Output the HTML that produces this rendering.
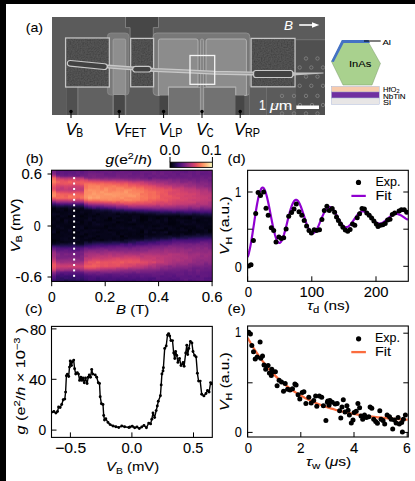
<!DOCTYPE html><html><head><meta charset="utf-8"><style>html,body{margin:0;padding:0;background:#fff;width:415px;height:481px;overflow:hidden}svg{display:block;position:absolute;left:0;top:0}text{font-family:"Liberation Sans",sans-serif}</style></head><body><svg width="415" height="481" viewBox="0 0 415 481"><rect x="0" y="0" width="6" height="481" fill="#000"/>
<rect x="0" y="0" width="415" height="4" fill="#000"/>
<defs><filter id="nz" x="0" y="0" width="1" height="1"><feTurbulence type="fractalNoise" baseFrequency="0.7" numOctaves="1" seed="4"/><feColorMatrix type="matrix" values="1 0 0 0 0  1 0 0 0 0  1 0 0 0 0  0 0 0 0 0.22"/></filter><clipPath id="padclip"><rect x="66.2" y="38.6" width="42.5" height="47.8"/><rect x="131.3" y="39" width="21.7" height="47.2"/><rect x="251.7" y="39" width="42.7" height="47.2"/></clipPath><clipPath id="semclip"><rect x="52" y="17" width="273" height="98"/></clipPath></defs>
<g clip-path="url(#semclip)">
<rect x="52" y="17" width="273" height="98" fill="#5b5b5b"/>
<rect x="296" y="40" width="29" height="75" fill="#505050"/>
<path d="M125.5 17 V27.6 H130.1 V38.5 H153.3 V27.6 H158.5 V17" fill="#474747" stroke="#8a8a8a" stroke-width="0.8"/>
<line x1="296" y1="39.7" x2="325" y2="39.7" stroke="#7a7a7a" stroke-width="0.8"/>
<rect x="77.7" y="87" width="36" height="28" fill="#616161"/>
<rect x="66.6" y="86" width="11.1" height="29" fill="#505050"/>
<line x1="77.9" y1="86" x2="77.9" y2="115" stroke="#8a8a8a" stroke-width="0.8"/>
<line x1="66.4" y1="86" x2="66.4" y2="115" stroke="#6a6a6a" stroke-width="0.6"/>
<rect x="107.4" y="33" width="21.6" height="62" rx="3.5" fill="#7a7a7a" stroke="#8e8e8e" stroke-width="0.7"/>
<rect x="113.1" y="39" width="12.6" height="56" rx="1.5" fill="#8e8e8e" stroke="#a8a8a8" stroke-width="0.7"/>
<rect x="113.8" y="95" width="10.6" height="20" fill="#484848"/>
<line x1="113.1" y1="95" x2="113.1" y2="115" stroke="#959595" stroke-width="0.8"/>
<line x1="125.7" y1="95" x2="125.7" y2="115" stroke="#959595" stroke-width="0.8"/>
<rect x="153.2" y="33" width="96.6" height="62.4" rx="3.5" fill="#787878" stroke="#969696" stroke-width="0.8"/>
<rect x="168.4" y="87.5" width="67.4" height="30" fill="#727272" stroke="#a4a4a4" stroke-width="0.8"/>
<path d="M160.4 39 H196 Q198 39 198 41 V86.8 H168.4 V95.4 H158.4 V41 Q158.4 39 160.4 39 Z" fill="#8c8c8c" stroke="#b4b4b4" stroke-width="0.9"/>
<path d="M208 39 H244.4 Q246.4 39 246.4 41 V95.4 H235.8 V86.8 H206 V41 Q206 39 208 39 Z" fill="#8c8c8c" stroke="#b4b4b4" stroke-width="0.9"/>
<rect x="200.4" y="39" width="3.2" height="77" rx="1.5" fill="#868686" stroke="#ababab" stroke-width="0.8"/>
<rect x="159.5" y="95.4" width="8.7" height="20" fill="#464646"/>
<rect x="235.3" y="95.4" width="9" height="20" fill="#464646"/>
<rect x="249.5" y="86" width="17" height="30" fill="#5e5e5e" stroke="#7a7a7a" stroke-width="0.6"/>
<rect x="65.6" y="38" width="43.7" height="49.0" fill="#303030" stroke="#c6c6c6" stroke-width="1.3"/>
<rect x="130.7" y="38.4" width="22.9" height="48.4" fill="#303030" stroke="#c6c6c6" stroke-width="1.3"/>
<rect x="251.1" y="38.4" width="43.9" height="48.4" fill="#303030" stroke="#c6c6c6" stroke-width="1.3"/>
<rect x="52" y="17" width="273" height="98" fill="#fff" filter="url(#nz)" clip-path="url(#padclip)"/>
<circle cx="306" cy="58.5" r="1.7" fill="none" stroke="#858585" stroke-width="0.8"/>
<circle cx="317.5" cy="58.5" r="1.7" fill="none" stroke="#858585" stroke-width="0.8"/>
<circle cx="299.7" cy="67.5" r="1.7" fill="none" stroke="#858585" stroke-width="0.8"/>
<circle cx="311.3" cy="67.5" r="1.7" fill="none" stroke="#858585" stroke-width="0.8"/>
<circle cx="323" cy="67.5" r="1.7" fill="none" stroke="#858585" stroke-width="0.8"/>
<circle cx="306" cy="76.6" r="1.7" fill="none" stroke="#858585" stroke-width="0.8"/>
<circle cx="317.5" cy="76.6" r="1.7" fill="none" stroke="#858585" stroke-width="0.8"/>
<circle cx="299.7" cy="85.8" r="1.7" fill="none" stroke="#858585" stroke-width="0.8"/>
<circle cx="311.3" cy="85.8" r="1.7" fill="none" stroke="#858585" stroke-width="0.8"/>
<circle cx="323" cy="85.8" r="1.7" fill="none" stroke="#858585" stroke-width="0.8"/>
<circle cx="282" cy="95.9" r="1.7" fill="none" stroke="#858585" stroke-width="0.8"/>
<circle cx="294" cy="95.9" r="1.7" fill="none" stroke="#858585" stroke-width="0.8"/>
<circle cx="306" cy="95.9" r="1.7" fill="none" stroke="#858585" stroke-width="0.8"/>
<circle cx="317.5" cy="95.9" r="1.7" fill="none" stroke="#858585" stroke-width="0.8"/>
<circle cx="276" cy="105" r="1.7" fill="none" stroke="#858585" stroke-width="0.8"/>
<circle cx="288" cy="105" r="1.7" fill="none" stroke="#858585" stroke-width="0.8"/>
<circle cx="300" cy="105" r="1.7" fill="none" stroke="#858585" stroke-width="0.8"/>
<circle cx="312" cy="105" r="1.7" fill="none" stroke="#858585" stroke-width="0.8"/>
<circle cx="323" cy="105" r="1.7" fill="none" stroke="#858585" stroke-width="0.8"/>
<circle cx="282" cy="113.5" r="1.7" fill="none" stroke="#858585" stroke-width="0.8"/>
<circle cx="294" cy="113.5" r="1.7" fill="none" stroke="#858585" stroke-width="0.8"/>
<circle cx="306" cy="113.5" r="1.7" fill="none" stroke="#858585" stroke-width="0.8"/>
<circle cx="317.5" cy="113.5" r="1.7" fill="none" stroke="#858585" stroke-width="0.8"/>
<polyline points="108,66.6 131,68.3 155,70 190,71.5 215,72.8 250,73.4 293,74.0" fill="none" stroke="#c8c8c8" stroke-width="4.0" stroke-linecap="round" stroke-linejoin="round"/>
<polyline points="108,66.6 131,68.3 155,70 190,71.5 215,72.8 250,73.4 293,74.0" fill="none" stroke="#a0a0a0" stroke-width="1.4" stroke-linejoin="round"/>
<path d="M293 72.6 L323.5 72.4 L323.5 73.6 L293 75.4 Z" fill="#c0c0c0"/>
<line x1="70.2" y1="63.3" x2="104.4" y2="66.6" stroke="#c8c8c8" stroke-width="6.8" stroke-linecap="round"/>
<line x1="70.2" y1="63.3" x2="104.4" y2="66.6" stroke="#424242" stroke-width="4.6" stroke-linecap="round"/>
<line x1="135.6" y1="69.2" x2="148.2" y2="69.2" stroke="#c8c8c8" stroke-width="6.8" stroke-linecap="round"/>
<line x1="135.6" y1="69.2" x2="148.2" y2="69.2" stroke="#424242" stroke-width="4.6" stroke-linecap="round"/>
<rect x="253.6" y="70.5" width="39.2" height="7" rx="2.2" fill="#424242" stroke="#c8c8c8" stroke-width="1.2"/>
<rect x="190" y="55.5" width="24.7" height="28.8" fill="none" stroke="#f4f4f4" stroke-width="1.3"/>
<text x="284.00" y="30.00" font-size="12.6" text-anchor="start" font-style="italic" textLength="9.00" lengthAdjust="spacingAndGlyphs" fill="#fff" stroke="#fff" stroke-width="0.08" >B</text>
<line x1="299.2" y1="25" x2="314" y2="25" stroke="#fff" stroke-width="1.6"/>
<path d="M312 22.2 L319.3 25 L312 27.8 Z" fill="#fff"/>
<text x="259.00" y="110.00" font-size="14.6" text-anchor="start" textLength="6.80" lengthAdjust="spacingAndGlyphs" fill="#fff" stroke="#fff" stroke-width="0.08" >1</text>
<text x="270.00" y="110.00" font-size="13" text-anchor="start" textLength="22.40" lengthAdjust="spacingAndGlyphs" fill="#fff" stroke="#fff" stroke-width="0.08" ><tspan font-style="italic">&#956;</tspan>m</text>
<rect x="296.3" y="105.5" width="22.7" height="3.5" fill="#fff"/>
</g>
<circle cx="71" cy="111.5" r="1.7" fill="#000"/>
<line x1="71" y1="111.5" x2="71" y2="118" stroke="#000" stroke-width="1"/>
<circle cx="119.2" cy="111.5" r="1.7" fill="#000"/>
<line x1="119.2" y1="111.5" x2="119.2" y2="118" stroke="#000" stroke-width="1"/>
<circle cx="163.6" cy="111.5" r="1.7" fill="#000"/>
<line x1="163.6" y1="111.5" x2="163.6" y2="118" stroke="#000" stroke-width="1"/>
<circle cx="202" cy="111.5" r="1.7" fill="#000"/>
<line x1="202" y1="111.5" x2="202" y2="118" stroke="#000" stroke-width="1"/>
<circle cx="240.2" cy="111.5" r="1.7" fill="#000"/>
<line x1="240.2" y1="111.5" x2="240.2" y2="118" stroke="#000" stroke-width="1"/>
<text x="65.50" y="134.80" font-size="17.3" text-anchor="start" font-style="italic" textLength="11.40" lengthAdjust="spacingAndGlyphs" fill="#000" stroke="#000" stroke-width="0.08" >V</text>
<text x="76.30" y="137.20" font-size="12" text-anchor="start" textLength="6.90" lengthAdjust="spacingAndGlyphs" fill="#000" stroke="#000" stroke-width="0.08" >B</text>
<text x="114.00" y="134.80" font-size="17.3" text-anchor="start" font-style="italic" textLength="11.40" lengthAdjust="spacingAndGlyphs" fill="#000" stroke="#000" stroke-width="0.08" >V</text>
<text x="124.80" y="137.20" font-size="12" text-anchor="start" textLength="21.30" lengthAdjust="spacingAndGlyphs" fill="#000" stroke="#000" stroke-width="0.08" >FET</text>
<text x="158.40" y="134.80" font-size="17.3" text-anchor="start" font-style="italic" textLength="11.40" lengthAdjust="spacingAndGlyphs" fill="#000" stroke="#000" stroke-width="0.08" >V</text>
<text x="169.20" y="137.20" font-size="12" text-anchor="start" textLength="13.20" lengthAdjust="spacingAndGlyphs" fill="#000" stroke="#000" stroke-width="0.08" >LP</text>
<text x="196.00" y="134.80" font-size="17.3" text-anchor="start" font-style="italic" textLength="11.40" lengthAdjust="spacingAndGlyphs" fill="#000" stroke="#000" stroke-width="0.08" >V</text>
<text x="206.80" y="137.20" font-size="12" text-anchor="start" textLength="6.80" lengthAdjust="spacingAndGlyphs" fill="#000" stroke="#000" stroke-width="0.08" >C</text>
<text x="234.10" y="134.80" font-size="17.3" text-anchor="start" font-style="italic" textLength="11.40" lengthAdjust="spacingAndGlyphs" fill="#000" stroke="#000" stroke-width="0.08" >V</text>
<text x="244.90" y="137.20" font-size="12" text-anchor="start" textLength="15.00" lengthAdjust="spacingAndGlyphs" fill="#000" stroke="#000" stroke-width="0.08" >RP</text>
<text x="25.70" y="32.00" font-size="13.6" text-anchor="start" textLength="17.40" lengthAdjust="spacingAndGlyphs" fill="#000" stroke="#000" stroke-width="0.08" >(a)</text>
<polygon points="342,42.2 368.4,42.2 380.4,63.5 372,85 343,85 331.5,61.5" fill="#a9d18e" stroke="#7a9a6a" stroke-width="0.5"/>
<polygon points="341.8,40.0 368.6,40.0 369.9,42.9 343.6,42.9 333.8,61.9 331.2,61.5" fill="#4472c4"/>
<line x1="364" y1="41" x2="380.7" y2="41" stroke="#000" stroke-width="1"/>
<text x="382.50" y="45.00" font-size="8" text-anchor="start" textLength="8.50" lengthAdjust="spacingAndGlyphs" fill="#000" stroke="#000" stroke-width="0.08" >Al</text>
<text x="349.00" y="66.60" font-size="8.2" text-anchor="start" textLength="22.30" lengthAdjust="spacingAndGlyphs" fill="#000" stroke="#000" stroke-width="0.08" >InAs</text>
<rect x="331.5" y="86.5" width="47.7" height="5.5" fill="#f8cbad" stroke="#9aa9cf" stroke-width="0.4"/>
<rect x="331.5" y="92" width="47.7" height="6" fill="#7030a0" stroke="#9aa9cf" stroke-width="0.4"/>
<rect x="331.5" y="98" width="47.7" height="6.3" fill="#e8e6e6" stroke="#9aa9cf" stroke-width="0.4"/>
<text x="383.00" y="91.50" font-size="7.6" text-anchor="start" fill="#000" stroke="#000" stroke-width="0.08" >HfO<tspan font-size="5.5" dy="1.5">2</tspan></text>
<text x="383.00" y="98.60" font-size="7.6" text-anchor="start" textLength="22.50" lengthAdjust="spacingAndGlyphs" fill="#000" stroke="#000" stroke-width="0.08" >NbTiN</text>
<text x="383.00" y="104.50" font-size="7.6" text-anchor="start" textLength="8.00" lengthAdjust="spacingAndGlyphs" fill="#000" stroke="#000" stroke-width="0.08" >Si</text>
<defs><linearGradient id="g0" x1="0" y1="0" x2="0" y2="1"><stop offset="0.000" stop-color="#742081"/><stop offset="0.018" stop-color="#762181"/><stop offset="0.036" stop-color="#822581"/><stop offset="0.054" stop-color="#bb3877"/><stop offset="0.072" stop-color="#f3655c"/><stop offset="0.090" stop-color="#f7735c"/><stop offset="0.108" stop-color="#fa7f5e"/><stop offset="0.126" stop-color="#f3655c"/><stop offset="0.144" stop-color="#ea5560"/><stop offset="0.162" stop-color="#de4a67"/><stop offset="0.180" stop-color="#e65162"/><stop offset="0.198" stop-color="#f9795c"/><stop offset="0.216" stop-color="#fb8861"/><stop offset="0.234" stop-color="#fc8c63"/><stop offset="0.252" stop-color="#f1615c"/><stop offset="0.270" stop-color="#c53c74"/><stop offset="0.288" stop-color="#7c2381"/><stop offset="0.306" stop-color="#3b0f6f"/><stop offset="0.324" stop-color="#160e3a"/><stop offset="0.342" stop-color="#040313"/><stop offset="0.360" stop-color="#02020f"/><stop offset="0.378" stop-color="#040415"/><stop offset="0.396" stop-color="#0a0722"/><stop offset="0.414" stop-color="#060519"/><stop offset="0.432" stop-color="#030311"/><stop offset="0.450" stop-color="#040313"/><stop offset="0.468" stop-color="#07051b"/><stop offset="0.486" stop-color="#050417"/><stop offset="0.504" stop-color="#040313"/><stop offset="0.522" stop-color="#040415"/><stop offset="0.540" stop-color="#07051b"/><stop offset="0.558" stop-color="#0b0824"/><stop offset="0.576" stop-color="#02020f"/><stop offset="0.594" stop-color="#040313"/><stop offset="0.612" stop-color="#040313"/><stop offset="0.629" stop-color="#010109"/><stop offset="0.647" stop-color="#030311"/><stop offset="0.665" stop-color="#0a0722"/><stop offset="0.683" stop-color="#341068"/><stop offset="0.701" stop-color="#60187f"/><stop offset="0.719" stop-color="#762181"/><stop offset="0.737" stop-color="#942b80"/><stop offset="0.755" stop-color="#9f2f7e"/><stop offset="0.773" stop-color="#a12f7e"/><stop offset="0.791" stop-color="#b0347b"/><stop offset="0.809" stop-color="#c23a75"/><stop offset="0.827" stop-color="#d7456b"/><stop offset="0.845" stop-color="#ea5560"/><stop offset="0.863" stop-color="#eb5660"/><stop offset="0.881" stop-color="#e55063"/><stop offset="0.899" stop-color="#ca3e72"/><stop offset="0.917" stop-color="#912a80"/><stop offset="0.935" stop-color="#6f1e81"/><stop offset="0.953" stop-color="#5a157e"/><stop offset="0.971" stop-color="#4f117b"/><stop offset="0.989" stop-color="#390f6e"/><stop offset="1.000" stop-color="#3e0f72"/></linearGradient><linearGradient id="g1" x1="0" y1="0" x2="0" y2="1"><stop offset="0.000" stop-color="#55137d"/><stop offset="0.018" stop-color="#5e177f"/><stop offset="0.036" stop-color="#5d177e"/><stop offset="0.054" stop-color="#7a2281"/><stop offset="0.072" stop-color="#c83d72"/><stop offset="0.090" stop-color="#e24d65"/><stop offset="0.108" stop-color="#f3655c"/><stop offset="0.126" stop-color="#e65162"/><stop offset="0.144" stop-color="#d6446c"/><stop offset="0.162" stop-color="#ca3e72"/><stop offset="0.180" stop-color="#c23a75"/><stop offset="0.198" stop-color="#e24d65"/><stop offset="0.216" stop-color="#f56c5b"/><stop offset="0.234" stop-color="#f3655c"/><stop offset="0.252" stop-color="#f66e5b"/><stop offset="0.270" stop-color="#d0416f"/><stop offset="0.288" stop-color="#972c7f"/><stop offset="0.306" stop-color="#4b1079"/><stop offset="0.324" stop-color="#1e1049"/><stop offset="0.342" stop-color="#0a0722"/><stop offset="0.360" stop-color="#060519"/><stop offset="0.378" stop-color="#02020f"/><stop offset="0.396" stop-color="#09071f"/><stop offset="0.414" stop-color="#02020f"/><stop offset="0.432" stop-color="#060519"/><stop offset="0.450" stop-color="#07051b"/><stop offset="0.468" stop-color="#030311"/><stop offset="0.486" stop-color="#050417"/><stop offset="0.504" stop-color="#09071f"/><stop offset="0.522" stop-color="#050417"/><stop offset="0.540" stop-color="#030311"/><stop offset="0.558" stop-color="#000006"/><stop offset="0.576" stop-color="#030311"/><stop offset="0.594" stop-color="#040313"/><stop offset="0.612" stop-color="#040313"/><stop offset="0.629" stop-color="#030311"/><stop offset="0.647" stop-color="#060519"/><stop offset="0.665" stop-color="#0e0a2a"/><stop offset="0.683" stop-color="#2b115e"/><stop offset="0.701" stop-color="#53137c"/><stop offset="0.719" stop-color="#5d177e"/><stop offset="0.737" stop-color="#6f1e81"/><stop offset="0.755" stop-color="#852681"/><stop offset="0.773" stop-color="#822581"/><stop offset="0.791" stop-color="#7e2481"/><stop offset="0.809" stop-color="#942b80"/><stop offset="0.827" stop-color="#a9327c"/><stop offset="0.845" stop-color="#c53c74"/><stop offset="0.863" stop-color="#d3426d"/><stop offset="0.881" stop-color="#c03a75"/><stop offset="0.899" stop-color="#972c7f"/><stop offset="0.917" stop-color="#691c80"/><stop offset="0.935" stop-color="#52127c"/><stop offset="0.953" stop-color="#3b0f6f"/><stop offset="0.971" stop-color="#341068"/><stop offset="0.989" stop-color="#2d1060"/><stop offset="1.000" stop-color="#2f1062"/></linearGradient><linearGradient id="g2" x1="0" y1="0" x2="0" y2="1"><stop offset="0.000" stop-color="#58157e"/><stop offset="0.018" stop-color="#61187f"/><stop offset="0.036" stop-color="#651a80"/><stop offset="0.054" stop-color="#6e1e81"/><stop offset="0.072" stop-color="#b3357a"/><stop offset="0.090" stop-color="#e44e64"/><stop offset="0.108" stop-color="#e85461"/><stop offset="0.126" stop-color="#e75262"/><stop offset="0.144" stop-color="#d0416f"/><stop offset="0.162" stop-color="#bd3977"/><stop offset="0.180" stop-color="#c23a75"/><stop offset="0.198" stop-color="#dd4968"/><stop offset="0.216" stop-color="#ef5e5d"/><stop offset="0.234" stop-color="#f4685b"/><stop offset="0.252" stop-color="#f3675b"/><stop offset="0.270" stop-color="#ce4070"/><stop offset="0.288" stop-color="#8f2a80"/><stop offset="0.306" stop-color="#53137c"/><stop offset="0.324" stop-color="#1f114b"/><stop offset="0.342" stop-color="#060519"/><stop offset="0.360" stop-color="#07051b"/><stop offset="0.378" stop-color="#040415"/><stop offset="0.396" stop-color="#040415"/><stop offset="0.414" stop-color="#08061d"/><stop offset="0.432" stop-color="#040313"/><stop offset="0.450" stop-color="#02020d"/><stop offset="0.468" stop-color="#030311"/><stop offset="0.486" stop-color="#050417"/><stop offset="0.504" stop-color="#050417"/><stop offset="0.522" stop-color="#09071f"/><stop offset="0.540" stop-color="#040313"/><stop offset="0.558" stop-color="#07051b"/><stop offset="0.576" stop-color="#060519"/><stop offset="0.594" stop-color="#050417"/><stop offset="0.612" stop-color="#08061d"/><stop offset="0.629" stop-color="#07051b"/><stop offset="0.647" stop-color="#030311"/><stop offset="0.665" stop-color="#140d35"/><stop offset="0.683" stop-color="#261157"/><stop offset="0.701" stop-color="#4d117a"/><stop offset="0.719" stop-color="#5d177e"/><stop offset="0.737" stop-color="#6f1e81"/><stop offset="0.755" stop-color="#731f81"/><stop offset="0.773" stop-color="#792281"/><stop offset="0.791" stop-color="#7c2381"/><stop offset="0.809" stop-color="#922b80"/><stop offset="0.827" stop-color="#9a2d7f"/><stop offset="0.845" stop-color="#b83778"/><stop offset="0.863" stop-color="#cb3e71"/><stop offset="0.881" stop-color="#b63679"/><stop offset="0.899" stop-color="#a12f7e"/><stop offset="0.917" stop-color="#61187f"/><stop offset="0.935" stop-color="#470f77"/><stop offset="0.953" stop-color="#420f74"/><stop offset="0.971" stop-color="#2d1060"/><stop offset="0.989" stop-color="#2f1062"/><stop offset="1.000" stop-color="#2d1060"/></linearGradient><linearGradient id="g3" x1="0" y1="0" x2="0" y2="1"><stop offset="0.000" stop-color="#58157e"/><stop offset="0.018" stop-color="#5d177e"/><stop offset="0.036" stop-color="#5e177f"/><stop offset="0.054" stop-color="#6b1c80"/><stop offset="0.072" stop-color="#b0347b"/><stop offset="0.090" stop-color="#d9466a"/><stop offset="0.108" stop-color="#eb5660"/><stop offset="0.126" stop-color="#ea5560"/><stop offset="0.144" stop-color="#d6446c"/><stop offset="0.162" stop-color="#ce4070"/><stop offset="0.180" stop-color="#c53c74"/><stop offset="0.198" stop-color="#da4769"/><stop offset="0.216" stop-color="#ef5e5d"/><stop offset="0.234" stop-color="#ee5d5d"/><stop offset="0.252" stop-color="#f3655c"/><stop offset="0.270" stop-color="#cd3f70"/><stop offset="0.288" stop-color="#922b80"/><stop offset="0.306" stop-color="#4f117b"/><stop offset="0.324" stop-color="#1a1041"/><stop offset="0.342" stop-color="#060519"/><stop offset="0.360" stop-color="#02020d"/><stop offset="0.378" stop-color="#050417"/><stop offset="0.396" stop-color="#060519"/><stop offset="0.414" stop-color="#060519"/><stop offset="0.432" stop-color="#040313"/><stop offset="0.450" stop-color="#0b0824"/><stop offset="0.468" stop-color="#09071f"/><stop offset="0.486" stop-color="#050417"/><stop offset="0.504" stop-color="#040313"/><stop offset="0.522" stop-color="#040415"/><stop offset="0.540" stop-color="#050417"/><stop offset="0.558" stop-color="#050417"/><stop offset="0.576" stop-color="#07051b"/><stop offset="0.594" stop-color="#07051b"/><stop offset="0.612" stop-color="#09071f"/><stop offset="0.629" stop-color="#09071f"/><stop offset="0.647" stop-color="#050417"/><stop offset="0.665" stop-color="#110c31"/><stop offset="0.683" stop-color="#2a115c"/><stop offset="0.701" stop-color="#4a1079"/><stop offset="0.719" stop-color="#661a80"/><stop offset="0.737" stop-color="#6b1c80"/><stop offset="0.755" stop-color="#7f2481"/><stop offset="0.773" stop-color="#772181"/><stop offset="0.791" stop-color="#7e2481"/><stop offset="0.809" stop-color="#922b80"/><stop offset="0.827" stop-color="#9f2f7e"/><stop offset="0.845" stop-color="#b93778"/><stop offset="0.863" stop-color="#cb3e71"/><stop offset="0.881" stop-color="#b93778"/><stop offset="0.899" stop-color="#942b80"/><stop offset="0.917" stop-color="#5e177f"/><stop offset="0.935" stop-color="#55137d"/><stop offset="0.953" stop-color="#390f6e"/><stop offset="0.971" stop-color="#3c0f71"/><stop offset="0.989" stop-color="#1f114b"/><stop offset="1.000" stop-color="#2a115c"/></linearGradient><linearGradient id="g4" x1="0" y1="0" x2="0" y2="1"><stop offset="0.000" stop-color="#5e177f"/><stop offset="0.018" stop-color="#5d177e"/><stop offset="0.036" stop-color="#661a80"/><stop offset="0.054" stop-color="#6e1e81"/><stop offset="0.072" stop-color="#b63679"/><stop offset="0.090" stop-color="#e04b66"/><stop offset="0.108" stop-color="#f3655c"/><stop offset="0.126" stop-color="#e75262"/><stop offset="0.144" stop-color="#d4436d"/><stop offset="0.162" stop-color="#c33b74"/><stop offset="0.180" stop-color="#c23a75"/><stop offset="0.198" stop-color="#d6446c"/><stop offset="0.216" stop-color="#ee5d5d"/><stop offset="0.234" stop-color="#f8755c"/><stop offset="0.252" stop-color="#f6705b"/><stop offset="0.270" stop-color="#d4436d"/><stop offset="0.288" stop-color="#952c80"/><stop offset="0.306" stop-color="#53137c"/><stop offset="0.324" stop-color="#1e1049"/><stop offset="0.342" stop-color="#0e0a2a"/><stop offset="0.360" stop-color="#08061d"/><stop offset="0.378" stop-color="#060519"/><stop offset="0.396" stop-color="#0a0722"/><stop offset="0.414" stop-color="#010109"/><stop offset="0.432" stop-color="#040313"/><stop offset="0.450" stop-color="#060519"/><stop offset="0.468" stop-color="#030311"/><stop offset="0.486" stop-color="#050417"/><stop offset="0.504" stop-color="#040313"/><stop offset="0.522" stop-color="#040313"/><stop offset="0.540" stop-color="#0d0a28"/><stop offset="0.558" stop-color="#07051b"/><stop offset="0.576" stop-color="#050417"/><stop offset="0.594" stop-color="#09071f"/><stop offset="0.612" stop-color="#040415"/><stop offset="0.629" stop-color="#08061d"/><stop offset="0.647" stop-color="#060519"/><stop offset="0.665" stop-color="#160e3a"/><stop offset="0.683" stop-color="#251155"/><stop offset="0.701" stop-color="#50127b"/><stop offset="0.719" stop-color="#5e177f"/><stop offset="0.737" stop-color="#681b80"/><stop offset="0.755" stop-color="#7a2281"/><stop offset="0.773" stop-color="#742081"/><stop offset="0.791" stop-color="#852681"/><stop offset="0.809" stop-color="#912a80"/><stop offset="0.827" stop-color="#a3307e"/><stop offset="0.845" stop-color="#b83778"/><stop offset="0.863" stop-color="#d1426e"/><stop offset="0.881" stop-color="#b3357a"/><stop offset="0.899" stop-color="#942b80"/><stop offset="0.917" stop-color="#5e177f"/><stop offset="0.935" stop-color="#4f117b"/><stop offset="0.953" stop-color="#390f6e"/><stop offset="0.971" stop-color="#350f6a"/><stop offset="0.989" stop-color="#281159"/><stop offset="1.000" stop-color="#321067"/></linearGradient><linearGradient id="g5" x1="0" y1="0" x2="0" y2="1"><stop offset="0.000" stop-color="#661a80"/><stop offset="0.018" stop-color="#5d177e"/><stop offset="0.036" stop-color="#61187f"/><stop offset="0.054" stop-color="#6c1d80"/><stop offset="0.072" stop-color="#be3976"/><stop offset="0.090" stop-color="#e65162"/><stop offset="0.108" stop-color="#e75262"/><stop offset="0.126" stop-color="#e44e64"/><stop offset="0.144" stop-color="#ce4070"/><stop offset="0.162" stop-color="#c03a75"/><stop offset="0.180" stop-color="#b83778"/><stop offset="0.198" stop-color="#dd4968"/><stop offset="0.216" stop-color="#ec585f"/><stop offset="0.234" stop-color="#f6705b"/><stop offset="0.252" stop-color="#f66e5b"/><stop offset="0.270" stop-color="#cd3f70"/><stop offset="0.288" stop-color="#8c2980"/><stop offset="0.306" stop-color="#481078"/><stop offset="0.324" stop-color="#221150"/><stop offset="0.342" stop-color="#050417"/><stop offset="0.360" stop-color="#02020d"/><stop offset="0.378" stop-color="#050417"/><stop offset="0.396" stop-color="#060519"/><stop offset="0.414" stop-color="#040313"/><stop offset="0.432" stop-color="#0a0722"/><stop offset="0.450" stop-color="#060519"/><stop offset="0.468" stop-color="#060519"/><stop offset="0.486" stop-color="#030311"/><stop offset="0.504" stop-color="#050417"/><stop offset="0.522" stop-color="#050417"/><stop offset="0.540" stop-color="#010109"/><stop offset="0.558" stop-color="#060519"/><stop offset="0.576" stop-color="#02020d"/><stop offset="0.594" stop-color="#050417"/><stop offset="0.612" stop-color="#02020d"/><stop offset="0.629" stop-color="#0b0824"/><stop offset="0.647" stop-color="#060519"/><stop offset="0.665" stop-color="#140d35"/><stop offset="0.683" stop-color="#301065"/><stop offset="0.701" stop-color="#470f77"/><stop offset="0.719" stop-color="#52127c"/><stop offset="0.737" stop-color="#6b1c80"/><stop offset="0.755" stop-color="#7a2281"/><stop offset="0.773" stop-color="#792281"/><stop offset="0.791" stop-color="#812581"/><stop offset="0.809" stop-color="#922b80"/><stop offset="0.827" stop-color="#972c7f"/><stop offset="0.845" stop-color="#b93778"/><stop offset="0.863" stop-color="#d6446c"/><stop offset="0.881" stop-color="#b93778"/><stop offset="0.899" stop-color="#8a2881"/><stop offset="0.917" stop-color="#60187f"/><stop offset="0.935" stop-color="#4b1079"/><stop offset="0.953" stop-color="#3c0f71"/><stop offset="0.971" stop-color="#2f1062"/><stop offset="0.989" stop-color="#2d1060"/><stop offset="1.000" stop-color="#1f114b"/></linearGradient><linearGradient id="g6" x1="0" y1="0" x2="0" y2="1"><stop offset="0.000" stop-color="#60187f"/><stop offset="0.018" stop-color="#661a80"/><stop offset="0.036" stop-color="#681b80"/><stop offset="0.054" stop-color="#63197f"/><stop offset="0.072" stop-color="#b93778"/><stop offset="0.090" stop-color="#d1426e"/><stop offset="0.108" stop-color="#ec585f"/><stop offset="0.126" stop-color="#e65162"/><stop offset="0.144" stop-color="#ce4070"/><stop offset="0.162" stop-color="#c63c73"/><stop offset="0.180" stop-color="#c23a75"/><stop offset="0.198" stop-color="#e04b66"/><stop offset="0.216" stop-color="#ef5e5d"/><stop offset="0.234" stop-color="#f4685b"/><stop offset="0.252" stop-color="#f0605d"/><stop offset="0.270" stop-color="#cb3e71"/><stop offset="0.288" stop-color="#8f2a80"/><stop offset="0.306" stop-color="#4d117a"/><stop offset="0.324" stop-color="#1c1046"/><stop offset="0.342" stop-color="#0c0926"/><stop offset="0.360" stop-color="#030311"/><stop offset="0.378" stop-color="#040415"/><stop offset="0.396" stop-color="#060519"/><stop offset="0.414" stop-color="#040415"/><stop offset="0.432" stop-color="#07051b"/><stop offset="0.450" stop-color="#040313"/><stop offset="0.468" stop-color="#09071f"/><stop offset="0.486" stop-color="#040415"/><stop offset="0.504" stop-color="#08061d"/><stop offset="0.522" stop-color="#050417"/><stop offset="0.540" stop-color="#0a0722"/><stop offset="0.558" stop-color="#02020f"/><stop offset="0.576" stop-color="#07051b"/><stop offset="0.594" stop-color="#040415"/><stop offset="0.612" stop-color="#060519"/><stop offset="0.629" stop-color="#09071f"/><stop offset="0.647" stop-color="#030311"/><stop offset="0.665" stop-color="#0c0926"/><stop offset="0.683" stop-color="#261157"/><stop offset="0.701" stop-color="#4f117b"/><stop offset="0.719" stop-color="#53137c"/><stop offset="0.737" stop-color="#6e1e81"/><stop offset="0.755" stop-color="#6f1e81"/><stop offset="0.773" stop-color="#731f81"/><stop offset="0.791" stop-color="#7c2381"/><stop offset="0.809" stop-color="#8f2a80"/><stop offset="0.827" stop-color="#9c2e7f"/><stop offset="0.845" stop-color="#b63679"/><stop offset="0.863" stop-color="#cd3f70"/><stop offset="0.881" stop-color="#bb3877"/><stop offset="0.899" stop-color="#872781"/><stop offset="0.917" stop-color="#60187f"/><stop offset="0.935" stop-color="#4d117a"/><stop offset="0.953" stop-color="#400f73"/><stop offset="0.971" stop-color="#3e0f72"/><stop offset="0.989" stop-color="#301065"/><stop offset="1.000" stop-color="#2a115c"/></linearGradient><linearGradient id="g7" x1="0" y1="0" x2="0" y2="1"><stop offset="0.000" stop-color="#57147d"/><stop offset="0.018" stop-color="#5e177f"/><stop offset="0.036" stop-color="#651a80"/><stop offset="0.054" stop-color="#711f81"/><stop offset="0.072" stop-color="#b3357a"/><stop offset="0.090" stop-color="#e04b66"/><stop offset="0.108" stop-color="#ee5b5e"/><stop offset="0.126" stop-color="#ed595f"/><stop offset="0.144" stop-color="#d4436d"/><stop offset="0.162" stop-color="#c33b74"/><stop offset="0.180" stop-color="#bd3977"/><stop offset="0.198" stop-color="#da4769"/><stop offset="0.216" stop-color="#ee5b5e"/><stop offset="0.234" stop-color="#f56c5b"/><stop offset="0.252" stop-color="#f6705b"/><stop offset="0.270" stop-color="#d4436d"/><stop offset="0.288" stop-color="#972c7f"/><stop offset="0.306" stop-color="#481078"/><stop offset="0.324" stop-color="#1e1049"/><stop offset="0.342" stop-color="#07051b"/><stop offset="0.360" stop-color="#050417"/><stop offset="0.378" stop-color="#09071f"/><stop offset="0.396" stop-color="#050417"/><stop offset="0.414" stop-color="#01010b"/><stop offset="0.432" stop-color="#040415"/><stop offset="0.450" stop-color="#040313"/><stop offset="0.468" stop-color="#02020d"/><stop offset="0.486" stop-color="#040313"/><stop offset="0.504" stop-color="#08061d"/><stop offset="0.522" stop-color="#0a0722"/><stop offset="0.540" stop-color="#040415"/><stop offset="0.558" stop-color="#08061d"/><stop offset="0.576" stop-color="#09071f"/><stop offset="0.594" stop-color="#02020f"/><stop offset="0.612" stop-color="#050417"/><stop offset="0.629" stop-color="#050417"/><stop offset="0.647" stop-color="#060519"/><stop offset="0.665" stop-color="#0b0824"/><stop offset="0.683" stop-color="#2a115c"/><stop offset="0.701" stop-color="#52127c"/><stop offset="0.719" stop-color="#63197f"/><stop offset="0.737" stop-color="#762181"/><stop offset="0.755" stop-color="#742081"/><stop offset="0.773" stop-color="#822581"/><stop offset="0.791" stop-color="#812581"/><stop offset="0.809" stop-color="#872781"/><stop offset="0.827" stop-color="#a3307e"/><stop offset="0.845" stop-color="#b63679"/><stop offset="0.863" stop-color="#ce4070"/><stop offset="0.881" stop-color="#bb3877"/><stop offset="0.899" stop-color="#9a2d7f"/><stop offset="0.917" stop-color="#63197f"/><stop offset="0.935" stop-color="#4b1079"/><stop offset="0.953" stop-color="#3e0f72"/><stop offset="0.971" stop-color="#341068"/><stop offset="0.989" stop-color="#2a115c"/><stop offset="1.000" stop-color="#2f1062"/></linearGradient><linearGradient id="g8" x1="0" y1="0" x2="0" y2="1"><stop offset="0.000" stop-color="#61187f"/><stop offset="0.018" stop-color="#651a80"/><stop offset="0.036" stop-color="#6b1c80"/><stop offset="0.054" stop-color="#6e1e81"/><stop offset="0.072" stop-color="#892881"/><stop offset="0.090" stop-color="#d6446c"/><stop offset="0.108" stop-color="#eb5660"/><stop offset="0.126" stop-color="#f6705b"/><stop offset="0.144" stop-color="#f7715b"/><stop offset="0.162" stop-color="#f8755c"/><stop offset="0.180" stop-color="#fb8660"/><stop offset="0.198" stop-color="#fc8c63"/><stop offset="0.216" stop-color="#fc8c63"/><stop offset="0.234" stop-color="#fc9366"/><stop offset="0.252" stop-color="#fc9064"/><stop offset="0.270" stop-color="#f56a5b"/><stop offset="0.288" stop-color="#cd3f70"/><stop offset="0.306" stop-color="#872781"/><stop offset="0.324" stop-color="#4f117b"/><stop offset="0.342" stop-color="#1f114b"/><stop offset="0.360" stop-color="#07051b"/><stop offset="0.378" stop-color="#050417"/><stop offset="0.396" stop-color="#02020f"/><stop offset="0.414" stop-color="#050417"/><stop offset="0.432" stop-color="#030311"/><stop offset="0.450" stop-color="#08061d"/><stop offset="0.468" stop-color="#07051b"/><stop offset="0.486" stop-color="#07051b"/><stop offset="0.504" stop-color="#040415"/><stop offset="0.522" stop-color="#01010b"/><stop offset="0.540" stop-color="#08061d"/><stop offset="0.558" stop-color="#09071f"/><stop offset="0.576" stop-color="#02020d"/><stop offset="0.594" stop-color="#050417"/><stop offset="0.612" stop-color="#09071f"/><stop offset="0.629" stop-color="#030311"/><stop offset="0.647" stop-color="#120d33"/><stop offset="0.665" stop-color="#1f114b"/><stop offset="0.683" stop-color="#3c0f71"/><stop offset="0.701" stop-color="#681b80"/><stop offset="0.719" stop-color="#7a2281"/><stop offset="0.737" stop-color="#8c2980"/><stop offset="0.755" stop-color="#a3307e"/><stop offset="0.773" stop-color="#9f2f7e"/><stop offset="0.791" stop-color="#bd3977"/><stop offset="0.809" stop-color="#c23a75"/><stop offset="0.827" stop-color="#d9466a"/><stop offset="0.845" stop-color="#e24d65"/><stop offset="0.863" stop-color="#ee5b5e"/><stop offset="0.881" stop-color="#de4a67"/><stop offset="0.899" stop-color="#a7317d"/><stop offset="0.917" stop-color="#7e2481"/><stop offset="0.935" stop-color="#5d177e"/><stop offset="0.953" stop-color="#4a1079"/><stop offset="0.971" stop-color="#430f75"/><stop offset="0.989" stop-color="#370f6c"/><stop offset="1.000" stop-color="#341068"/></linearGradient><linearGradient id="g9" x1="0" y1="0" x2="0" y2="1"><stop offset="0.000" stop-color="#691c80"/><stop offset="0.018" stop-color="#691c80"/><stop offset="0.036" stop-color="#762181"/><stop offset="0.054" stop-color="#772181"/><stop offset="0.072" stop-color="#7c2381"/><stop offset="0.090" stop-color="#bd3977"/><stop offset="0.108" stop-color="#ea5560"/><stop offset="0.126" stop-color="#f8755c"/><stop offset="0.144" stop-color="#fa825f"/><stop offset="0.162" stop-color="#fb8460"/><stop offset="0.180" stop-color="#fd9567"/><stop offset="0.198" stop-color="#fc8c63"/><stop offset="0.216" stop-color="#fc9265"/><stop offset="0.234" stop-color="#fd9d6b"/><stop offset="0.252" stop-color="#fea873"/><stop offset="0.270" stop-color="#fa7f5e"/><stop offset="0.288" stop-color="#dc4869"/><stop offset="0.306" stop-color="#a3307e"/><stop offset="0.324" stop-color="#60187f"/><stop offset="0.342" stop-color="#2d1060"/><stop offset="0.360" stop-color="#08061d"/><stop offset="0.378" stop-color="#050417"/><stop offset="0.396" stop-color="#060519"/><stop offset="0.414" stop-color="#060519"/><stop offset="0.432" stop-color="#0a0722"/><stop offset="0.450" stop-color="#0b0824"/><stop offset="0.468" stop-color="#040313"/><stop offset="0.486" stop-color="#040313"/><stop offset="0.504" stop-color="#050417"/><stop offset="0.522" stop-color="#040415"/><stop offset="0.540" stop-color="#07051b"/><stop offset="0.558" stop-color="#07051b"/><stop offset="0.576" stop-color="#060519"/><stop offset="0.594" stop-color="#09071f"/><stop offset="0.612" stop-color="#050417"/><stop offset="0.629" stop-color="#030311"/><stop offset="0.647" stop-color="#0a0722"/><stop offset="0.665" stop-color="#221150"/><stop offset="0.683" stop-color="#430f75"/><stop offset="0.701" stop-color="#5e177f"/><stop offset="0.719" stop-color="#812581"/><stop offset="0.737" stop-color="#972c7f"/><stop offset="0.755" stop-color="#a6317d"/><stop offset="0.773" stop-color="#b0347b"/><stop offset="0.791" stop-color="#b93778"/><stop offset="0.809" stop-color="#ce4070"/><stop offset="0.827" stop-color="#ea5560"/><stop offset="0.845" stop-color="#e24d65"/><stop offset="0.863" stop-color="#ef5e5d"/><stop offset="0.881" stop-color="#e04b66"/><stop offset="0.899" stop-color="#ae347b"/><stop offset="0.917" stop-color="#7c2381"/><stop offset="0.935" stop-color="#661a80"/><stop offset="0.953" stop-color="#4d117a"/><stop offset="0.971" stop-color="#4a1079"/><stop offset="0.989" stop-color="#470f77"/><stop offset="1.000" stop-color="#350f6a"/></linearGradient><linearGradient id="g10" x1="0" y1="0" x2="0" y2="1"><stop offset="0.000" stop-color="#60187f"/><stop offset="0.018" stop-color="#6b1c80"/><stop offset="0.036" stop-color="#742081"/><stop offset="0.054" stop-color="#7c2381"/><stop offset="0.072" stop-color="#822581"/><stop offset="0.090" stop-color="#be3976"/><stop offset="0.108" stop-color="#e55063"/><stop offset="0.126" stop-color="#f7715b"/><stop offset="0.144" stop-color="#fa825f"/><stop offset="0.162" stop-color="#fa825f"/><stop offset="0.180" stop-color="#fc9064"/><stop offset="0.198" stop-color="#fd9768"/><stop offset="0.216" stop-color="#fd9f6c"/><stop offset="0.234" stop-color="#fd9567"/><stop offset="0.252" stop-color="#fd9d6b"/><stop offset="0.270" stop-color="#f8775c"/><stop offset="0.288" stop-color="#e04b66"/><stop offset="0.306" stop-color="#a6317d"/><stop offset="0.324" stop-color="#6c1d80"/><stop offset="0.342" stop-color="#420f74"/><stop offset="0.360" stop-color="#0e0a2a"/><stop offset="0.378" stop-color="#0a0722"/><stop offset="0.396" stop-color="#08061d"/><stop offset="0.414" stop-color="#02020f"/><stop offset="0.432" stop-color="#07051b"/><stop offset="0.450" stop-color="#02020f"/><stop offset="0.468" stop-color="#0a0722"/><stop offset="0.486" stop-color="#09071f"/><stop offset="0.504" stop-color="#07051b"/><stop offset="0.522" stop-color="#040313"/><stop offset="0.540" stop-color="#0a0722"/><stop offset="0.558" stop-color="#060519"/><stop offset="0.576" stop-color="#050417"/><stop offset="0.594" stop-color="#07051b"/><stop offset="0.612" stop-color="#02020d"/><stop offset="0.629" stop-color="#060519"/><stop offset="0.647" stop-color="#140d35"/><stop offset="0.665" stop-color="#2a115c"/><stop offset="0.683" stop-color="#4b1079"/><stop offset="0.701" stop-color="#63197f"/><stop offset="0.719" stop-color="#822581"/><stop offset="0.737" stop-color="#972c7f"/><stop offset="0.755" stop-color="#a7317d"/><stop offset="0.773" stop-color="#b3357a"/><stop offset="0.791" stop-color="#c63c73"/><stop offset="0.809" stop-color="#da4769"/><stop offset="0.827" stop-color="#e55063"/><stop offset="0.845" stop-color="#ed595f"/><stop offset="0.863" stop-color="#f1615c"/><stop offset="0.881" stop-color="#e04b66"/><stop offset="0.899" stop-color="#ab337c"/><stop offset="0.917" stop-color="#7c2381"/><stop offset="0.935" stop-color="#60187f"/><stop offset="0.953" stop-color="#53137c"/><stop offset="0.971" stop-color="#4b1079"/><stop offset="0.989" stop-color="#450f76"/><stop offset="1.000" stop-color="#390f6e"/></linearGradient><linearGradient id="g11" x1="0" y1="0" x2="0" y2="1"><stop offset="0.000" stop-color="#651a80"/><stop offset="0.018" stop-color="#651a80"/><stop offset="0.036" stop-color="#742081"/><stop offset="0.054" stop-color="#731f81"/><stop offset="0.072" stop-color="#812581"/><stop offset="0.090" stop-color="#b93778"/><stop offset="0.108" stop-color="#e55063"/><stop offset="0.126" stop-color="#f4685b"/><stop offset="0.144" stop-color="#fb8660"/><stop offset="0.162" stop-color="#fb8861"/><stop offset="0.180" stop-color="#fc8c63"/><stop offset="0.198" stop-color="#fc8e63"/><stop offset="0.216" stop-color="#fd9567"/><stop offset="0.234" stop-color="#fd9d6b"/><stop offset="0.252" stop-color="#fda26f"/><stop offset="0.270" stop-color="#f8775c"/><stop offset="0.288" stop-color="#e14c66"/><stop offset="0.306" stop-color="#ab337c"/><stop offset="0.324" stop-color="#691c80"/><stop offset="0.342" stop-color="#301065"/><stop offset="0.360" stop-color="#110c31"/><stop offset="0.378" stop-color="#0c0926"/><stop offset="0.396" stop-color="#02020f"/><stop offset="0.414" stop-color="#060519"/><stop offset="0.432" stop-color="#08061d"/><stop offset="0.450" stop-color="#08061d"/><stop offset="0.468" stop-color="#040415"/><stop offset="0.486" stop-color="#0c0926"/><stop offset="0.504" stop-color="#07051b"/><stop offset="0.522" stop-color="#040313"/><stop offset="0.540" stop-color="#08061d"/><stop offset="0.558" stop-color="#030311"/><stop offset="0.576" stop-color="#08061d"/><stop offset="0.594" stop-color="#02020f"/><stop offset="0.612" stop-color="#07051b"/><stop offset="0.629" stop-color="#040313"/><stop offset="0.647" stop-color="#160e3a"/><stop offset="0.665" stop-color="#2f1062"/><stop offset="0.683" stop-color="#4f117b"/><stop offset="0.701" stop-color="#691c80"/><stop offset="0.719" stop-color="#842681"/><stop offset="0.737" stop-color="#8d2980"/><stop offset="0.755" stop-color="#ab337c"/><stop offset="0.773" stop-color="#b93778"/><stop offset="0.791" stop-color="#c83d72"/><stop offset="0.809" stop-color="#da4769"/><stop offset="0.827" stop-color="#f0605d"/><stop offset="0.845" stop-color="#ea5560"/><stop offset="0.863" stop-color="#ee5b5e"/><stop offset="0.881" stop-color="#d4436d"/><stop offset="0.899" stop-color="#ae347b"/><stop offset="0.917" stop-color="#731f81"/><stop offset="0.935" stop-color="#6b1c80"/><stop offset="0.953" stop-color="#50127b"/><stop offset="0.971" stop-color="#3e0f72"/><stop offset="0.989" stop-color="#3c0f71"/><stop offset="1.000" stop-color="#3b0f6f"/></linearGradient><linearGradient id="g12" x1="0" y1="0" x2="0" y2="1"><stop offset="0.000" stop-color="#651a80"/><stop offset="0.018" stop-color="#691c80"/><stop offset="0.036" stop-color="#731f81"/><stop offset="0.054" stop-color="#731f81"/><stop offset="0.072" stop-color="#7c2381"/><stop offset="0.090" stop-color="#ac337b"/><stop offset="0.108" stop-color="#e55063"/><stop offset="0.126" stop-color="#f66e5b"/><stop offset="0.144" stop-color="#f8775c"/><stop offset="0.162" stop-color="#f97b5d"/><stop offset="0.180" stop-color="#fb8460"/><stop offset="0.198" stop-color="#fd9d6b"/><stop offset="0.216" stop-color="#fc9366"/><stop offset="0.234" stop-color="#fd9567"/><stop offset="0.252" stop-color="#fc9366"/><stop offset="0.270" stop-color="#fb8460"/><stop offset="0.288" stop-color="#e55063"/><stop offset="0.306" stop-color="#ae347b"/><stop offset="0.324" stop-color="#6e1e81"/><stop offset="0.342" stop-color="#420f74"/><stop offset="0.360" stop-color="#180f3f"/><stop offset="0.378" stop-color="#0b0824"/><stop offset="0.396" stop-color="#08061d"/><stop offset="0.414" stop-color="#060519"/><stop offset="0.432" stop-color="#050417"/><stop offset="0.450" stop-color="#060519"/><stop offset="0.468" stop-color="#050417"/><stop offset="0.486" stop-color="#08061d"/><stop offset="0.504" stop-color="#07051b"/><stop offset="0.522" stop-color="#040313"/><stop offset="0.540" stop-color="#050417"/><stop offset="0.558" stop-color="#050417"/><stop offset="0.576" stop-color="#07051b"/><stop offset="0.594" stop-color="#060519"/><stop offset="0.612" stop-color="#060519"/><stop offset="0.629" stop-color="#02020d"/><stop offset="0.647" stop-color="#150e38"/><stop offset="0.665" stop-color="#341068"/><stop offset="0.683" stop-color="#481078"/><stop offset="0.701" stop-color="#711f81"/><stop offset="0.719" stop-color="#812581"/><stop offset="0.737" stop-color="#952c80"/><stop offset="0.755" stop-color="#9f2f7e"/><stop offset="0.773" stop-color="#be3976"/><stop offset="0.791" stop-color="#c23a75"/><stop offset="0.809" stop-color="#d4436d"/><stop offset="0.827" stop-color="#e75262"/><stop offset="0.845" stop-color="#e55063"/><stop offset="0.863" stop-color="#e55063"/><stop offset="0.881" stop-color="#ca3e72"/><stop offset="0.899" stop-color="#a3307e"/><stop offset="0.917" stop-color="#7f2481"/><stop offset="0.935" stop-color="#651a80"/><stop offset="0.953" stop-color="#55137d"/><stop offset="0.971" stop-color="#481078"/><stop offset="0.989" stop-color="#430f75"/><stop offset="1.000" stop-color="#390f6e"/></linearGradient><linearGradient id="g13" x1="0" y1="0" x2="0" y2="1"><stop offset="0.000" stop-color="#6e1e81"/><stop offset="0.018" stop-color="#691c80"/><stop offset="0.036" stop-color="#651a80"/><stop offset="0.054" stop-color="#6e1e81"/><stop offset="0.072" stop-color="#842681"/><stop offset="0.090" stop-color="#ac337b"/><stop offset="0.108" stop-color="#de4a67"/><stop offset="0.126" stop-color="#f3675b"/><stop offset="0.144" stop-color="#f7715b"/><stop offset="0.162" stop-color="#fb8a62"/><stop offset="0.180" stop-color="#fd9567"/><stop offset="0.198" stop-color="#fc8e63"/><stop offset="0.216" stop-color="#fd9f6c"/><stop offset="0.234" stop-color="#fc9366"/><stop offset="0.252" stop-color="#fc9265"/><stop offset="0.270" stop-color="#fa825f"/><stop offset="0.288" stop-color="#ea5560"/><stop offset="0.306" stop-color="#b63679"/><stop offset="0.324" stop-color="#812581"/><stop offset="0.342" stop-color="#430f75"/><stop offset="0.360" stop-color="#160e3a"/><stop offset="0.378" stop-color="#09071f"/><stop offset="0.396" stop-color="#08061d"/><stop offset="0.414" stop-color="#08061d"/><stop offset="0.432" stop-color="#07051b"/><stop offset="0.450" stop-color="#02020f"/><stop offset="0.468" stop-color="#050417"/><stop offset="0.486" stop-color="#060519"/><stop offset="0.504" stop-color="#02020d"/><stop offset="0.522" stop-color="#030311"/><stop offset="0.540" stop-color="#07051b"/><stop offset="0.558" stop-color="#07051b"/><stop offset="0.576" stop-color="#060519"/><stop offset="0.594" stop-color="#07051b"/><stop offset="0.612" stop-color="#060519"/><stop offset="0.629" stop-color="#07051b"/><stop offset="0.647" stop-color="#150e38"/><stop offset="0.665" stop-color="#2b115e"/><stop offset="0.683" stop-color="#4f117b"/><stop offset="0.701" stop-color="#681b80"/><stop offset="0.719" stop-color="#8c2980"/><stop offset="0.737" stop-color="#972c7f"/><stop offset="0.755" stop-color="#a9327c"/><stop offset="0.773" stop-color="#b83778"/><stop offset="0.791" stop-color="#c83d72"/><stop offset="0.809" stop-color="#d7456b"/><stop offset="0.827" stop-color="#e85461"/><stop offset="0.845" stop-color="#e75262"/><stop offset="0.863" stop-color="#ea5560"/><stop offset="0.881" stop-color="#c83d72"/><stop offset="0.899" stop-color="#a12f7e"/><stop offset="0.917" stop-color="#7f2481"/><stop offset="0.935" stop-color="#5d177e"/><stop offset="0.953" stop-color="#55137d"/><stop offset="0.971" stop-color="#4b1079"/><stop offset="0.989" stop-color="#420f74"/><stop offset="1.000" stop-color="#3b0f6f"/></linearGradient><linearGradient id="g14" x1="0" y1="0" x2="0" y2="1"><stop offset="0.000" stop-color="#5b167e"/><stop offset="0.018" stop-color="#6e1e81"/><stop offset="0.036" stop-color="#691c80"/><stop offset="0.054" stop-color="#6c1d80"/><stop offset="0.072" stop-color="#7e2481"/><stop offset="0.090" stop-color="#a4307d"/><stop offset="0.108" stop-color="#e14c66"/><stop offset="0.126" stop-color="#f3655c"/><stop offset="0.144" stop-color="#f8775c"/><stop offset="0.162" stop-color="#fa805e"/><stop offset="0.180" stop-color="#fa825f"/><stop offset="0.198" stop-color="#fb8660"/><stop offset="0.216" stop-color="#fd9f6c"/><stop offset="0.234" stop-color="#fc9366"/><stop offset="0.252" stop-color="#fc9265"/><stop offset="0.270" stop-color="#fc8c63"/><stop offset="0.288" stop-color="#e85461"/><stop offset="0.306" stop-color="#be3976"/><stop offset="0.324" stop-color="#822581"/><stop offset="0.342" stop-color="#52127c"/><stop offset="0.360" stop-color="#1a1041"/><stop offset="0.378" stop-color="#0c0926"/><stop offset="0.396" stop-color="#0a0722"/><stop offset="0.414" stop-color="#08061d"/><stop offset="0.432" stop-color="#000006"/><stop offset="0.450" stop-color="#01010b"/><stop offset="0.468" stop-color="#060519"/><stop offset="0.486" stop-color="#050417"/><stop offset="0.504" stop-color="#040415"/><stop offset="0.522" stop-color="#08061d"/><stop offset="0.540" stop-color="#02020d"/><stop offset="0.558" stop-color="#09071f"/><stop offset="0.576" stop-color="#050417"/><stop offset="0.594" stop-color="#07051b"/><stop offset="0.612" stop-color="#060519"/><stop offset="0.629" stop-color="#0a0722"/><stop offset="0.647" stop-color="#160e3a"/><stop offset="0.665" stop-color="#301065"/><stop offset="0.683" stop-color="#57147d"/><stop offset="0.701" stop-color="#6c1d80"/><stop offset="0.719" stop-color="#7a2281"/><stop offset="0.737" stop-color="#9e2e7e"/><stop offset="0.755" stop-color="#b0347b"/><stop offset="0.773" stop-color="#c23a75"/><stop offset="0.791" stop-color="#cb3e71"/><stop offset="0.809" stop-color="#dc4869"/><stop offset="0.827" stop-color="#e65162"/><stop offset="0.845" stop-color="#e24d65"/><stop offset="0.863" stop-color="#e44e64"/><stop offset="0.881" stop-color="#c83d72"/><stop offset="0.899" stop-color="#992d7f"/><stop offset="0.917" stop-color="#842681"/><stop offset="0.935" stop-color="#5b167e"/><stop offset="0.953" stop-color="#50127b"/><stop offset="0.971" stop-color="#481078"/><stop offset="0.989" stop-color="#4a1079"/><stop offset="1.000" stop-color="#3e0f72"/></linearGradient><linearGradient id="g15" x1="0" y1="0" x2="0" y2="1"><stop offset="0.000" stop-color="#63197f"/><stop offset="0.018" stop-color="#651a80"/><stop offset="0.036" stop-color="#691c80"/><stop offset="0.054" stop-color="#6b1c80"/><stop offset="0.072" stop-color="#7e2481"/><stop offset="0.090" stop-color="#ac337b"/><stop offset="0.108" stop-color="#de4a67"/><stop offset="0.126" stop-color="#ee5b5e"/><stop offset="0.144" stop-color="#fa805e"/><stop offset="0.162" stop-color="#f97b5d"/><stop offset="0.180" stop-color="#f97d5d"/><stop offset="0.198" stop-color="#fc9064"/><stop offset="0.216" stop-color="#fd9768"/><stop offset="0.234" stop-color="#fd9b6a"/><stop offset="0.252" stop-color="#fc8e63"/><stop offset="0.270" stop-color="#fb8660"/><stop offset="0.288" stop-color="#f1615c"/><stop offset="0.306" stop-color="#c23a75"/><stop offset="0.324" stop-color="#892881"/><stop offset="0.342" stop-color="#52127c"/><stop offset="0.360" stop-color="#251155"/><stop offset="0.378" stop-color="#120d33"/><stop offset="0.396" stop-color="#08061d"/><stop offset="0.414" stop-color="#08061d"/><stop offset="0.432" stop-color="#09071f"/><stop offset="0.450" stop-color="#050417"/><stop offset="0.468" stop-color="#08061d"/><stop offset="0.486" stop-color="#030311"/><stop offset="0.504" stop-color="#040313"/><stop offset="0.522" stop-color="#060519"/><stop offset="0.540" stop-color="#040313"/><stop offset="0.558" stop-color="#07051b"/><stop offset="0.576" stop-color="#09071f"/><stop offset="0.594" stop-color="#060519"/><stop offset="0.612" stop-color="#040313"/><stop offset="0.629" stop-color="#060519"/><stop offset="0.647" stop-color="#1f114b"/><stop offset="0.665" stop-color="#301065"/><stop offset="0.683" stop-color="#55137d"/><stop offset="0.701" stop-color="#6b1c80"/><stop offset="0.719" stop-color="#812581"/><stop offset="0.737" stop-color="#9c2e7f"/><stop offset="0.755" stop-color="#a7317d"/><stop offset="0.773" stop-color="#b53679"/><stop offset="0.791" stop-color="#d3426d"/><stop offset="0.809" stop-color="#dd4968"/><stop offset="0.827" stop-color="#eb5660"/><stop offset="0.845" stop-color="#e55063"/><stop offset="0.863" stop-color="#e44e64"/><stop offset="0.881" stop-color="#c83d72"/><stop offset="0.899" stop-color="#9f2f7e"/><stop offset="0.917" stop-color="#792281"/><stop offset="0.935" stop-color="#61187f"/><stop offset="0.953" stop-color="#57147d"/><stop offset="0.971" stop-color="#4d117a"/><stop offset="0.989" stop-color="#470f77"/><stop offset="1.000" stop-color="#3c0f71"/></linearGradient><linearGradient id="g16" x1="0" y1="0" x2="0" y2="1"><stop offset="0.000" stop-color="#58157e"/><stop offset="0.018" stop-color="#6b1c80"/><stop offset="0.036" stop-color="#6f1e81"/><stop offset="0.054" stop-color="#742081"/><stop offset="0.072" stop-color="#7f2481"/><stop offset="0.090" stop-color="#a9327c"/><stop offset="0.108" stop-color="#d4436d"/><stop offset="0.126" stop-color="#f0605d"/><stop offset="0.144" stop-color="#f66e5b"/><stop offset="0.162" stop-color="#fb8660"/><stop offset="0.180" stop-color="#fb8861"/><stop offset="0.198" stop-color="#fc9265"/><stop offset="0.216" stop-color="#fd9768"/><stop offset="0.234" stop-color="#fd9567"/><stop offset="0.252" stop-color="#fb8a62"/><stop offset="0.270" stop-color="#fb8460"/><stop offset="0.288" stop-color="#e75262"/><stop offset="0.306" stop-color="#ce4070"/><stop offset="0.324" stop-color="#992d7f"/><stop offset="0.342" stop-color="#6b1c80"/><stop offset="0.360" stop-color="#2b115e"/><stop offset="0.378" stop-color="#0f0b2c"/><stop offset="0.396" stop-color="#02020f"/><stop offset="0.414" stop-color="#0b0824"/><stop offset="0.432" stop-color="#02020f"/><stop offset="0.450" stop-color="#08061d"/><stop offset="0.468" stop-color="#010109"/><stop offset="0.486" stop-color="#050417"/><stop offset="0.504" stop-color="#07051b"/><stop offset="0.522" stop-color="#060519"/><stop offset="0.540" stop-color="#050417"/><stop offset="0.558" stop-color="#030311"/><stop offset="0.576" stop-color="#030311"/><stop offset="0.594" stop-color="#08061d"/><stop offset="0.612" stop-color="#060519"/><stop offset="0.629" stop-color="#09071f"/><stop offset="0.647" stop-color="#1c1046"/><stop offset="0.665" stop-color="#321067"/><stop offset="0.683" stop-color="#5b167e"/><stop offset="0.701" stop-color="#731f81"/><stop offset="0.719" stop-color="#7e2481"/><stop offset="0.737" stop-color="#972c7f"/><stop offset="0.755" stop-color="#b0347b"/><stop offset="0.773" stop-color="#b93778"/><stop offset="0.791" stop-color="#d7456b"/><stop offset="0.809" stop-color="#e44e64"/><stop offset="0.827" stop-color="#e75262"/><stop offset="0.845" stop-color="#e85461"/><stop offset="0.863" stop-color="#e55063"/><stop offset="0.881" stop-color="#b83778"/><stop offset="0.899" stop-color="#992d7f"/><stop offset="0.917" stop-color="#792281"/><stop offset="0.935" stop-color="#61187f"/><stop offset="0.953" stop-color="#58157e"/><stop offset="0.971" stop-color="#4a1079"/><stop offset="0.989" stop-color="#3e0f72"/><stop offset="1.000" stop-color="#390f6e"/></linearGradient><linearGradient id="g17" x1="0" y1="0" x2="0" y2="1"><stop offset="0.000" stop-color="#651a80"/><stop offset="0.018" stop-color="#6b1c80"/><stop offset="0.036" stop-color="#6c1d80"/><stop offset="0.054" stop-color="#6f1e81"/><stop offset="0.072" stop-color="#762181"/><stop offset="0.090" stop-color="#a6317d"/><stop offset="0.108" stop-color="#d4436d"/><stop offset="0.126" stop-color="#ea5560"/><stop offset="0.144" stop-color="#f56a5b"/><stop offset="0.162" stop-color="#fb8460"/><stop offset="0.180" stop-color="#fa825f"/><stop offset="0.198" stop-color="#fc8c63"/><stop offset="0.216" stop-color="#fd9567"/><stop offset="0.234" stop-color="#fc8e63"/><stop offset="0.252" stop-color="#fd9768"/><stop offset="0.270" stop-color="#f9795c"/><stop offset="0.288" stop-color="#f3675b"/><stop offset="0.306" stop-color="#d0416f"/><stop offset="0.324" stop-color="#952c80"/><stop offset="0.342" stop-color="#6b1c80"/><stop offset="0.360" stop-color="#261157"/><stop offset="0.378" stop-color="#150e38"/><stop offset="0.396" stop-color="#08061d"/><stop offset="0.414" stop-color="#040415"/><stop offset="0.432" stop-color="#040415"/><stop offset="0.450" stop-color="#08061d"/><stop offset="0.468" stop-color="#040313"/><stop offset="0.486" stop-color="#050417"/><stop offset="0.504" stop-color="#060519"/><stop offset="0.522" stop-color="#0a0722"/><stop offset="0.540" stop-color="#040313"/><stop offset="0.558" stop-color="#050417"/><stop offset="0.576" stop-color="#08061d"/><stop offset="0.594" stop-color="#010007"/><stop offset="0.612" stop-color="#040415"/><stop offset="0.629" stop-color="#050417"/><stop offset="0.647" stop-color="#160e3a"/><stop offset="0.665" stop-color="#450f76"/><stop offset="0.683" stop-color="#5a157e"/><stop offset="0.701" stop-color="#742081"/><stop offset="0.719" stop-color="#812581"/><stop offset="0.737" stop-color="#992d7f"/><stop offset="0.755" stop-color="#a9327c"/><stop offset="0.773" stop-color="#bb3877"/><stop offset="0.791" stop-color="#ce4070"/><stop offset="0.809" stop-color="#e04b66"/><stop offset="0.827" stop-color="#ee5d5d"/><stop offset="0.845" stop-color="#e24d65"/><stop offset="0.863" stop-color="#dc4869"/><stop offset="0.881" stop-color="#b83778"/><stop offset="0.899" stop-color="#922b80"/><stop offset="0.917" stop-color="#731f81"/><stop offset="0.935" stop-color="#681b80"/><stop offset="0.953" stop-color="#53137c"/><stop offset="0.971" stop-color="#4d117a"/><stop offset="0.989" stop-color="#450f76"/><stop offset="1.000" stop-color="#470f77"/></linearGradient><linearGradient id="g18" x1="0" y1="0" x2="0" y2="1"><stop offset="0.000" stop-color="#661a80"/><stop offset="0.018" stop-color="#681b80"/><stop offset="0.036" stop-color="#6c1d80"/><stop offset="0.054" stop-color="#711f81"/><stop offset="0.072" stop-color="#772181"/><stop offset="0.090" stop-color="#9e2e7e"/><stop offset="0.108" stop-color="#d4436d"/><stop offset="0.126" stop-color="#ee5d5d"/><stop offset="0.144" stop-color="#f56c5b"/><stop offset="0.162" stop-color="#f7735c"/><stop offset="0.180" stop-color="#fc9064"/><stop offset="0.198" stop-color="#fd9b6a"/><stop offset="0.216" stop-color="#fc9366"/><stop offset="0.234" stop-color="#fc9265"/><stop offset="0.252" stop-color="#fb8460"/><stop offset="0.270" stop-color="#fc8c63"/><stop offset="0.288" stop-color="#ee5d5d"/><stop offset="0.306" stop-color="#e04b66"/><stop offset="0.324" stop-color="#972c7f"/><stop offset="0.342" stop-color="#731f81"/><stop offset="0.360" stop-color="#390f6e"/><stop offset="0.378" stop-color="#120d33"/><stop offset="0.396" stop-color="#040415"/><stop offset="0.414" stop-color="#060519"/><stop offset="0.432" stop-color="#040415"/><stop offset="0.450" stop-color="#040415"/><stop offset="0.468" stop-color="#050417"/><stop offset="0.486" stop-color="#040313"/><stop offset="0.504" stop-color="#040415"/><stop offset="0.522" stop-color="#07051b"/><stop offset="0.540" stop-color="#040415"/><stop offset="0.558" stop-color="#060519"/><stop offset="0.576" stop-color="#040313"/><stop offset="0.594" stop-color="#08061d"/><stop offset="0.612" stop-color="#02020f"/><stop offset="0.629" stop-color="#0f0b2c"/><stop offset="0.647" stop-color="#140d35"/><stop offset="0.665" stop-color="#390f6e"/><stop offset="0.683" stop-color="#53137c"/><stop offset="0.701" stop-color="#742081"/><stop offset="0.719" stop-color="#842681"/><stop offset="0.737" stop-color="#8f2a80"/><stop offset="0.755" stop-color="#a9327c"/><stop offset="0.773" stop-color="#c63c73"/><stop offset="0.791" stop-color="#d1426e"/><stop offset="0.809" stop-color="#e24d65"/><stop offset="0.827" stop-color="#e55063"/><stop offset="0.845" stop-color="#dd4968"/><stop offset="0.863" stop-color="#da4769"/><stop offset="0.881" stop-color="#c03a75"/><stop offset="0.899" stop-color="#8c2980"/><stop offset="0.917" stop-color="#7a2281"/><stop offset="0.935" stop-color="#5e177f"/><stop offset="0.953" stop-color="#5d177e"/><stop offset="0.971" stop-color="#4b1079"/><stop offset="0.989" stop-color="#450f76"/><stop offset="1.000" stop-color="#370f6c"/></linearGradient><linearGradient id="g19" x1="0" y1="0" x2="0" y2="1"><stop offset="0.000" stop-color="#61187f"/><stop offset="0.018" stop-color="#681b80"/><stop offset="0.036" stop-color="#711f81"/><stop offset="0.054" stop-color="#691c80"/><stop offset="0.072" stop-color="#772181"/><stop offset="0.090" stop-color="#942b80"/><stop offset="0.108" stop-color="#ca3e72"/><stop offset="0.126" stop-color="#e44e64"/><stop offset="0.144" stop-color="#ee5d5d"/><stop offset="0.162" stop-color="#f7735c"/><stop offset="0.180" stop-color="#fc8e63"/><stop offset="0.198" stop-color="#fb8660"/><stop offset="0.216" stop-color="#fc9366"/><stop offset="0.234" stop-color="#fd9969"/><stop offset="0.252" stop-color="#fa825f"/><stop offset="0.270" stop-color="#fb8a62"/><stop offset="0.288" stop-color="#f2635c"/><stop offset="0.306" stop-color="#de4a67"/><stop offset="0.324" stop-color="#b0347b"/><stop offset="0.342" stop-color="#792281"/><stop offset="0.360" stop-color="#3b0f6f"/><stop offset="0.378" stop-color="#180f3f"/><stop offset="0.396" stop-color="#08061d"/><stop offset="0.414" stop-color="#040313"/><stop offset="0.432" stop-color="#050417"/><stop offset="0.450" stop-color="#02020f"/><stop offset="0.468" stop-color="#09071f"/><stop offset="0.486" stop-color="#02020f"/><stop offset="0.504" stop-color="#050417"/><stop offset="0.522" stop-color="#0a0722"/><stop offset="0.540" stop-color="#07051b"/><stop offset="0.558" stop-color="#040415"/><stop offset="0.576" stop-color="#040313"/><stop offset="0.594" stop-color="#040313"/><stop offset="0.612" stop-color="#08061d"/><stop offset="0.629" stop-color="#0f0b2c"/><stop offset="0.647" stop-color="#20114d"/><stop offset="0.665" stop-color="#4d117a"/><stop offset="0.683" stop-color="#58157e"/><stop offset="0.701" stop-color="#6c1d80"/><stop offset="0.719" stop-color="#812581"/><stop offset="0.737" stop-color="#972c7f"/><stop offset="0.755" stop-color="#ac337b"/><stop offset="0.773" stop-color="#c03a75"/><stop offset="0.791" stop-color="#d6446c"/><stop offset="0.809" stop-color="#e44e64"/><stop offset="0.827" stop-color="#eb5660"/><stop offset="0.845" stop-color="#d7456b"/><stop offset="0.863" stop-color="#d7456b"/><stop offset="0.881" stop-color="#ab337c"/><stop offset="0.899" stop-color="#892881"/><stop offset="0.917" stop-color="#762181"/><stop offset="0.935" stop-color="#5d177e"/><stop offset="0.953" stop-color="#52127c"/><stop offset="0.971" stop-color="#4f117b"/><stop offset="0.989" stop-color="#450f76"/><stop offset="1.000" stop-color="#430f75"/></linearGradient><linearGradient id="g20" x1="0" y1="0" x2="0" y2="1"><stop offset="0.000" stop-color="#60187f"/><stop offset="0.018" stop-color="#661a80"/><stop offset="0.036" stop-color="#651a80"/><stop offset="0.054" stop-color="#6c1d80"/><stop offset="0.072" stop-color="#731f81"/><stop offset="0.090" stop-color="#912a80"/><stop offset="0.108" stop-color="#be3976"/><stop offset="0.126" stop-color="#e24d65"/><stop offset="0.144" stop-color="#f1615c"/><stop offset="0.162" stop-color="#f97b5d"/><stop offset="0.180" stop-color="#fa7f5e"/><stop offset="0.198" stop-color="#fb8660"/><stop offset="0.216" stop-color="#fb8a62"/><stop offset="0.234" stop-color="#fd9969"/><stop offset="0.252" stop-color="#fb8660"/><stop offset="0.270" stop-color="#fa7f5e"/><stop offset="0.288" stop-color="#f2635c"/><stop offset="0.306" stop-color="#d7456b"/><stop offset="0.324" stop-color="#b53679"/><stop offset="0.342" stop-color="#7f2481"/><stop offset="0.360" stop-color="#430f75"/><stop offset="0.378" stop-color="#140d35"/><stop offset="0.396" stop-color="#050417"/><stop offset="0.414" stop-color="#08061d"/><stop offset="0.432" stop-color="#08061d"/><stop offset="0.450" stop-color="#0d0a28"/><stop offset="0.468" stop-color="#08061d"/><stop offset="0.486" stop-color="#01010b"/><stop offset="0.504" stop-color="#050417"/><stop offset="0.522" stop-color="#040415"/><stop offset="0.540" stop-color="#08061d"/><stop offset="0.558" stop-color="#050417"/><stop offset="0.576" stop-color="#060519"/><stop offset="0.594" stop-color="#040415"/><stop offset="0.612" stop-color="#07051b"/><stop offset="0.629" stop-color="#150e38"/><stop offset="0.647" stop-color="#221150"/><stop offset="0.665" stop-color="#390f6e"/><stop offset="0.683" stop-color="#5a157e"/><stop offset="0.701" stop-color="#792281"/><stop offset="0.719" stop-color="#852681"/><stop offset="0.737" stop-color="#952c80"/><stop offset="0.755" stop-color="#a7317d"/><stop offset="0.773" stop-color="#c63c73"/><stop offset="0.791" stop-color="#d3426d"/><stop offset="0.809" stop-color="#e04b66"/><stop offset="0.827" stop-color="#e75262"/><stop offset="0.845" stop-color="#dd4968"/><stop offset="0.863" stop-color="#cd3f70"/><stop offset="0.881" stop-color="#ae347b"/><stop offset="0.899" stop-color="#8f2a80"/><stop offset="0.917" stop-color="#6c1d80"/><stop offset="0.935" stop-color="#5b167e"/><stop offset="0.953" stop-color="#57147d"/><stop offset="0.971" stop-color="#50127b"/><stop offset="0.989" stop-color="#400f73"/><stop offset="1.000" stop-color="#400f73"/></linearGradient><linearGradient id="g21" x1="0" y1="0" x2="0" y2="1"><stop offset="0.000" stop-color="#61187f"/><stop offset="0.018" stop-color="#651a80"/><stop offset="0.036" stop-color="#681b80"/><stop offset="0.054" stop-color="#6c1d80"/><stop offset="0.072" stop-color="#762181"/><stop offset="0.090" stop-color="#942b80"/><stop offset="0.108" stop-color="#c33b74"/><stop offset="0.126" stop-color="#de4a67"/><stop offset="0.144" stop-color="#eb5660"/><stop offset="0.162" stop-color="#f56a5b"/><stop offset="0.180" stop-color="#f97d5d"/><stop offset="0.198" stop-color="#fa825f"/><stop offset="0.216" stop-color="#fc8e63"/><stop offset="0.234" stop-color="#fb8861"/><stop offset="0.252" stop-color="#fb8460"/><stop offset="0.270" stop-color="#fa805e"/><stop offset="0.288" stop-color="#ec585f"/><stop offset="0.306" stop-color="#dc4869"/><stop offset="0.324" stop-color="#ac337b"/><stop offset="0.342" stop-color="#842681"/><stop offset="0.360" stop-color="#420f74"/><stop offset="0.378" stop-color="#1b1044"/><stop offset="0.396" stop-color="#07051b"/><stop offset="0.414" stop-color="#07051b"/><stop offset="0.432" stop-color="#07051b"/><stop offset="0.450" stop-color="#040415"/><stop offset="0.468" stop-color="#050417"/><stop offset="0.486" stop-color="#050417"/><stop offset="0.504" stop-color="#07051b"/><stop offset="0.522" stop-color="#040415"/><stop offset="0.540" stop-color="#050417"/><stop offset="0.558" stop-color="#040415"/><stop offset="0.576" stop-color="#030311"/><stop offset="0.594" stop-color="#050417"/><stop offset="0.612" stop-color="#07051b"/><stop offset="0.629" stop-color="#100c2f"/><stop offset="0.647" stop-color="#321067"/><stop offset="0.665" stop-color="#430f75"/><stop offset="0.683" stop-color="#651a80"/><stop offset="0.701" stop-color="#762181"/><stop offset="0.719" stop-color="#7e2481"/><stop offset="0.737" stop-color="#972c7f"/><stop offset="0.755" stop-color="#a4307d"/><stop offset="0.773" stop-color="#be3976"/><stop offset="0.791" stop-color="#d1426e"/><stop offset="0.809" stop-color="#e24d65"/><stop offset="0.827" stop-color="#e75262"/><stop offset="0.845" stop-color="#d0416f"/><stop offset="0.863" stop-color="#c63c73"/><stop offset="0.881" stop-color="#ae347b"/><stop offset="0.899" stop-color="#872781"/><stop offset="0.917" stop-color="#7c2381"/><stop offset="0.935" stop-color="#5e177f"/><stop offset="0.953" stop-color="#55137d"/><stop offset="0.971" stop-color="#4a1079"/><stop offset="0.989" stop-color="#481078"/><stop offset="1.000" stop-color="#4b1079"/></linearGradient><linearGradient id="g22" x1="0" y1="0" x2="0" y2="1"><stop offset="0.000" stop-color="#5e177f"/><stop offset="0.018" stop-color="#6b1c80"/><stop offset="0.036" stop-color="#6c1d80"/><stop offset="0.054" stop-color="#711f81"/><stop offset="0.072" stop-color="#6f1e81"/><stop offset="0.090" stop-color="#8d2980"/><stop offset="0.108" stop-color="#c53c74"/><stop offset="0.126" stop-color="#d1426e"/><stop offset="0.144" stop-color="#eb5660"/><stop offset="0.162" stop-color="#f66e5b"/><stop offset="0.180" stop-color="#f8755c"/><stop offset="0.198" stop-color="#fa825f"/><stop offset="0.216" stop-color="#f6705b"/><stop offset="0.234" stop-color="#f97d5d"/><stop offset="0.252" stop-color="#f8755c"/><stop offset="0.270" stop-color="#f7735c"/><stop offset="0.288" stop-color="#ee5b5e"/><stop offset="0.306" stop-color="#dd4968"/><stop offset="0.324" stop-color="#ab337c"/><stop offset="0.342" stop-color="#852681"/><stop offset="0.360" stop-color="#420f74"/><stop offset="0.378" stop-color="#20114d"/><stop offset="0.396" stop-color="#08061d"/><stop offset="0.414" stop-color="#02020d"/><stop offset="0.432" stop-color="#01010b"/><stop offset="0.450" stop-color="#01010b"/><stop offset="0.468" stop-color="#030311"/><stop offset="0.486" stop-color="#050417"/><stop offset="0.504" stop-color="#09071f"/><stop offset="0.522" stop-color="#07051b"/><stop offset="0.540" stop-color="#02020f"/><stop offset="0.558" stop-color="#010109"/><stop offset="0.576" stop-color="#040415"/><stop offset="0.594" stop-color="#02020d"/><stop offset="0.612" stop-color="#07051b"/><stop offset="0.629" stop-color="#140d35"/><stop offset="0.647" stop-color="#3c0f71"/><stop offset="0.665" stop-color="#430f75"/><stop offset="0.683" stop-color="#661a80"/><stop offset="0.701" stop-color="#7f2481"/><stop offset="0.719" stop-color="#872781"/><stop offset="0.737" stop-color="#952c80"/><stop offset="0.755" stop-color="#b53679"/><stop offset="0.773" stop-color="#b3357a"/><stop offset="0.791" stop-color="#c33b74"/><stop offset="0.809" stop-color="#d0416f"/><stop offset="0.827" stop-color="#e04b66"/><stop offset="0.845" stop-color="#d4436d"/><stop offset="0.863" stop-color="#c03a75"/><stop offset="0.881" stop-color="#ab337c"/><stop offset="0.899" stop-color="#822581"/><stop offset="0.917" stop-color="#731f81"/><stop offset="0.935" stop-color="#60187f"/><stop offset="0.953" stop-color="#5e177f"/><stop offset="0.971" stop-color="#52127c"/><stop offset="0.989" stop-color="#481078"/><stop offset="1.000" stop-color="#4f117b"/></linearGradient><linearGradient id="g23" x1="0" y1="0" x2="0" y2="1"><stop offset="0.000" stop-color="#691c80"/><stop offset="0.018" stop-color="#6b1c80"/><stop offset="0.036" stop-color="#63197f"/><stop offset="0.054" stop-color="#681b80"/><stop offset="0.072" stop-color="#6e1e81"/><stop offset="0.090" stop-color="#8a2881"/><stop offset="0.108" stop-color="#b3357a"/><stop offset="0.126" stop-color="#d0416f"/><stop offset="0.144" stop-color="#e55063"/><stop offset="0.162" stop-color="#ed595f"/><stop offset="0.180" stop-color="#f56c5b"/><stop offset="0.198" stop-color="#f6705b"/><stop offset="0.216" stop-color="#f8755c"/><stop offset="0.234" stop-color="#f8755c"/><stop offset="0.252" stop-color="#f9795c"/><stop offset="0.270" stop-color="#f6705b"/><stop offset="0.288" stop-color="#e85461"/><stop offset="0.306" stop-color="#da4769"/><stop offset="0.324" stop-color="#b0347b"/><stop offset="0.342" stop-color="#852681"/><stop offset="0.360" stop-color="#4b1079"/><stop offset="0.378" stop-color="#251155"/><stop offset="0.396" stop-color="#0c0926"/><stop offset="0.414" stop-color="#02020f"/><stop offset="0.432" stop-color="#02020f"/><stop offset="0.450" stop-color="#02020f"/><stop offset="0.468" stop-color="#060519"/><stop offset="0.486" stop-color="#040313"/><stop offset="0.504" stop-color="#040415"/><stop offset="0.522" stop-color="#050417"/><stop offset="0.540" stop-color="#09071f"/><stop offset="0.558" stop-color="#0c0926"/><stop offset="0.576" stop-color="#050417"/><stop offset="0.594" stop-color="#0c0926"/><stop offset="0.612" stop-color="#0c0926"/><stop offset="0.629" stop-color="#20114d"/><stop offset="0.647" stop-color="#341068"/><stop offset="0.665" stop-color="#4a1079"/><stop offset="0.683" stop-color="#6b1c80"/><stop offset="0.701" stop-color="#812581"/><stop offset="0.719" stop-color="#842681"/><stop offset="0.737" stop-color="#9a2d7f"/><stop offset="0.755" stop-color="#ae347b"/><stop offset="0.773" stop-color="#c03a75"/><stop offset="0.791" stop-color="#c33b74"/><stop offset="0.809" stop-color="#ce4070"/><stop offset="0.827" stop-color="#dd4968"/><stop offset="0.845" stop-color="#d3426d"/><stop offset="0.863" stop-color="#b93778"/><stop offset="0.881" stop-color="#a12f7e"/><stop offset="0.899" stop-color="#822581"/><stop offset="0.917" stop-color="#731f81"/><stop offset="0.935" stop-color="#60187f"/><stop offset="0.953" stop-color="#58157e"/><stop offset="0.971" stop-color="#50127b"/><stop offset="0.989" stop-color="#4d117a"/><stop offset="1.000" stop-color="#4f117b"/></linearGradient><linearGradient id="g24" x1="0" y1="0" x2="0" y2="1"><stop offset="0.000" stop-color="#651a80"/><stop offset="0.018" stop-color="#691c80"/><stop offset="0.036" stop-color="#661a80"/><stop offset="0.054" stop-color="#6f1e81"/><stop offset="0.072" stop-color="#60187f"/><stop offset="0.090" stop-color="#822581"/><stop offset="0.108" stop-color="#ae347b"/><stop offset="0.126" stop-color="#c23a75"/><stop offset="0.144" stop-color="#e04b66"/><stop offset="0.162" stop-color="#ed595f"/><stop offset="0.180" stop-color="#f0605d"/><stop offset="0.198" stop-color="#f56c5b"/><stop offset="0.216" stop-color="#f4685b"/><stop offset="0.234" stop-color="#f56a5b"/><stop offset="0.252" stop-color="#f56c5b"/><stop offset="0.270" stop-color="#ef5e5d"/><stop offset="0.288" stop-color="#ec585f"/><stop offset="0.306" stop-color="#d4436d"/><stop offset="0.324" stop-color="#b53679"/><stop offset="0.342" stop-color="#842681"/><stop offset="0.360" stop-color="#53137c"/><stop offset="0.378" stop-color="#1f114b"/><stop offset="0.396" stop-color="#0b0824"/><stop offset="0.414" stop-color="#040415"/><stop offset="0.432" stop-color="#060519"/><stop offset="0.450" stop-color="#09071f"/><stop offset="0.468" stop-color="#040313"/><stop offset="0.486" stop-color="#050417"/><stop offset="0.504" stop-color="#060519"/><stop offset="0.522" stop-color="#08061d"/><stop offset="0.540" stop-color="#050417"/><stop offset="0.558" stop-color="#040415"/><stop offset="0.576" stop-color="#040313"/><stop offset="0.594" stop-color="#07051b"/><stop offset="0.612" stop-color="#0e0a2a"/><stop offset="0.629" stop-color="#1c1046"/><stop offset="0.647" stop-color="#390f6e"/><stop offset="0.665" stop-color="#58157e"/><stop offset="0.683" stop-color="#6b1c80"/><stop offset="0.701" stop-color="#7a2281"/><stop offset="0.719" stop-color="#922b80"/><stop offset="0.737" stop-color="#a12f7e"/><stop offset="0.755" stop-color="#b0347b"/><stop offset="0.773" stop-color="#c03a75"/><stop offset="0.791" stop-color="#c33b74"/><stop offset="0.809" stop-color="#ce4070"/><stop offset="0.827" stop-color="#d3426d"/><stop offset="0.845" stop-color="#c33b74"/><stop offset="0.863" stop-color="#a9327c"/><stop offset="0.881" stop-color="#972c7f"/><stop offset="0.899" stop-color="#812581"/><stop offset="0.917" stop-color="#731f81"/><stop offset="0.935" stop-color="#61187f"/><stop offset="0.953" stop-color="#5a157e"/><stop offset="0.971" stop-color="#4b1079"/><stop offset="0.989" stop-color="#470f77"/><stop offset="1.000" stop-color="#3b0f6f"/></linearGradient><linearGradient id="g25" x1="0" y1="0" x2="0" y2="1"><stop offset="0.000" stop-color="#63197f"/><stop offset="0.018" stop-color="#6e1e81"/><stop offset="0.036" stop-color="#711f81"/><stop offset="0.054" stop-color="#661a80"/><stop offset="0.072" stop-color="#731f81"/><stop offset="0.090" stop-color="#8d2980"/><stop offset="0.108" stop-color="#a9327c"/><stop offset="0.126" stop-color="#b93778"/><stop offset="0.144" stop-color="#dd4968"/><stop offset="0.162" stop-color="#e65162"/><stop offset="0.180" stop-color="#ee5d5d"/><stop offset="0.198" stop-color="#f66e5b"/><stop offset="0.216" stop-color="#f56c5b"/><stop offset="0.234" stop-color="#f66e5b"/><stop offset="0.252" stop-color="#f7715b"/><stop offset="0.270" stop-color="#f0605d"/><stop offset="0.288" stop-color="#e24d65"/><stop offset="0.306" stop-color="#d9466a"/><stop offset="0.324" stop-color="#ae347b"/><stop offset="0.342" stop-color="#8a2881"/><stop offset="0.360" stop-color="#58157e"/><stop offset="0.378" stop-color="#221150"/><stop offset="0.396" stop-color="#0d0a28"/><stop offset="0.414" stop-color="#040415"/><stop offset="0.432" stop-color="#040415"/><stop offset="0.450" stop-color="#050417"/><stop offset="0.468" stop-color="#060519"/><stop offset="0.486" stop-color="#060519"/><stop offset="0.504" stop-color="#02020f"/><stop offset="0.522" stop-color="#07051b"/><stop offset="0.540" stop-color="#02020f"/><stop offset="0.558" stop-color="#0c0926"/><stop offset="0.576" stop-color="#040313"/><stop offset="0.594" stop-color="#08061d"/><stop offset="0.612" stop-color="#150e38"/><stop offset="0.629" stop-color="#221150"/><stop offset="0.647" stop-color="#390f6e"/><stop offset="0.665" stop-color="#53137c"/><stop offset="0.683" stop-color="#711f81"/><stop offset="0.701" stop-color="#822581"/><stop offset="0.719" stop-color="#952c80"/><stop offset="0.737" stop-color="#a12f7e"/><stop offset="0.755" stop-color="#ab337c"/><stop offset="0.773" stop-color="#bd3977"/><stop offset="0.791" stop-color="#ca3e72"/><stop offset="0.809" stop-color="#c33b74"/><stop offset="0.827" stop-color="#dc4869"/><stop offset="0.845" stop-color="#b93778"/><stop offset="0.863" stop-color="#b1357a"/><stop offset="0.881" stop-color="#9c2e7f"/><stop offset="0.899" stop-color="#812581"/><stop offset="0.917" stop-color="#6f1e81"/><stop offset="0.935" stop-color="#661a80"/><stop offset="0.953" stop-color="#61187f"/><stop offset="0.971" stop-color="#481078"/><stop offset="0.989" stop-color="#52127c"/><stop offset="1.000" stop-color="#4a1079"/></linearGradient><linearGradient id="g26" x1="0" y1="0" x2="0" y2="1"><stop offset="0.000" stop-color="#60187f"/><stop offset="0.018" stop-color="#681b80"/><stop offset="0.036" stop-color="#691c80"/><stop offset="0.054" stop-color="#6e1e81"/><stop offset="0.072" stop-color="#6c1d80"/><stop offset="0.090" stop-color="#8c2980"/><stop offset="0.108" stop-color="#9a2d7f"/><stop offset="0.126" stop-color="#b83778"/><stop offset="0.144" stop-color="#cb3e71"/><stop offset="0.162" stop-color="#e24d65"/><stop offset="0.180" stop-color="#eb5660"/><stop offset="0.198" stop-color="#f0605d"/><stop offset="0.216" stop-color="#ef5e5d"/><stop offset="0.234" stop-color="#f4685b"/><stop offset="0.252" stop-color="#f3655c"/><stop offset="0.270" stop-color="#ec585f"/><stop offset="0.288" stop-color="#dc4869"/><stop offset="0.306" stop-color="#cd3f70"/><stop offset="0.324" stop-color="#a6317d"/><stop offset="0.342" stop-color="#8f2a80"/><stop offset="0.360" stop-color="#5d177e"/><stop offset="0.378" stop-color="#231152"/><stop offset="0.396" stop-color="#150e38"/><stop offset="0.414" stop-color="#040415"/><stop offset="0.432" stop-color="#010109"/><stop offset="0.450" stop-color="#08061d"/><stop offset="0.468" stop-color="#09071f"/><stop offset="0.486" stop-color="#050417"/><stop offset="0.504" stop-color="#030311"/><stop offset="0.522" stop-color="#09071f"/><stop offset="0.540" stop-color="#040313"/><stop offset="0.558" stop-color="#050417"/><stop offset="0.576" stop-color="#060519"/><stop offset="0.594" stop-color="#0a0722"/><stop offset="0.612" stop-color="#100c2f"/><stop offset="0.629" stop-color="#231152"/><stop offset="0.647" stop-color="#4a1079"/><stop offset="0.665" stop-color="#53137c"/><stop offset="0.683" stop-color="#742081"/><stop offset="0.701" stop-color="#842681"/><stop offset="0.719" stop-color="#972c7f"/><stop offset="0.737" stop-color="#9e2e7e"/><stop offset="0.755" stop-color="#ae347b"/><stop offset="0.773" stop-color="#bd3977"/><stop offset="0.791" stop-color="#b93778"/><stop offset="0.809" stop-color="#c33b74"/><stop offset="0.827" stop-color="#c63c73"/><stop offset="0.845" stop-color="#ae347b"/><stop offset="0.863" stop-color="#9f2f7e"/><stop offset="0.881" stop-color="#952c80"/><stop offset="0.899" stop-color="#7f2481"/><stop offset="0.917" stop-color="#691c80"/><stop offset="0.935" stop-color="#661a80"/><stop offset="0.953" stop-color="#5d177e"/><stop offset="0.971" stop-color="#5d177e"/><stop offset="0.989" stop-color="#57147d"/><stop offset="1.000" stop-color="#420f74"/></linearGradient><linearGradient id="g27" x1="0" y1="0" x2="0" y2="1"><stop offset="0.000" stop-color="#63197f"/><stop offset="0.018" stop-color="#6c1d80"/><stop offset="0.036" stop-color="#711f81"/><stop offset="0.054" stop-color="#681b80"/><stop offset="0.072" stop-color="#691c80"/><stop offset="0.090" stop-color="#852681"/><stop offset="0.108" stop-color="#9c2e7f"/><stop offset="0.126" stop-color="#b53679"/><stop offset="0.144" stop-color="#c33b74"/><stop offset="0.162" stop-color="#e04b66"/><stop offset="0.180" stop-color="#eb5660"/><stop offset="0.198" stop-color="#ed595f"/><stop offset="0.216" stop-color="#ea5560"/><stop offset="0.234" stop-color="#e85461"/><stop offset="0.252" stop-color="#ea5560"/><stop offset="0.270" stop-color="#eb5660"/><stop offset="0.288" stop-color="#d7456b"/><stop offset="0.306" stop-color="#d4436d"/><stop offset="0.324" stop-color="#b83778"/><stop offset="0.342" stop-color="#872781"/><stop offset="0.360" stop-color="#5d177e"/><stop offset="0.378" stop-color="#321067"/><stop offset="0.396" stop-color="#140d35"/><stop offset="0.414" stop-color="#040313"/><stop offset="0.432" stop-color="#040415"/><stop offset="0.450" stop-color="#050417"/><stop offset="0.468" stop-color="#040415"/><stop offset="0.486" stop-color="#07051b"/><stop offset="0.504" stop-color="#060519"/><stop offset="0.522" stop-color="#09071f"/><stop offset="0.540" stop-color="#02020d"/><stop offset="0.558" stop-color="#09071f"/><stop offset="0.576" stop-color="#08061d"/><stop offset="0.594" stop-color="#0a0722"/><stop offset="0.612" stop-color="#160e3a"/><stop offset="0.629" stop-color="#321067"/><stop offset="0.647" stop-color="#4d117a"/><stop offset="0.665" stop-color="#61187f"/><stop offset="0.683" stop-color="#772181"/><stop offset="0.701" stop-color="#822581"/><stop offset="0.719" stop-color="#912a80"/><stop offset="0.737" stop-color="#9e2e7e"/><stop offset="0.755" stop-color="#a9327c"/><stop offset="0.773" stop-color="#b93778"/><stop offset="0.791" stop-color="#be3976"/><stop offset="0.809" stop-color="#be3976"/><stop offset="0.827" stop-color="#c53c74"/><stop offset="0.845" stop-color="#ac337b"/><stop offset="0.863" stop-color="#992d7f"/><stop offset="0.881" stop-color="#852681"/><stop offset="0.899" stop-color="#742081"/><stop offset="0.917" stop-color="#691c80"/><stop offset="0.935" stop-color="#681b80"/><stop offset="0.953" stop-color="#55137d"/><stop offset="0.971" stop-color="#5a157e"/><stop offset="0.989" stop-color="#52127c"/><stop offset="1.000" stop-color="#53137c"/></linearGradient><linearGradient id="g28" x1="0" y1="0" x2="0" y2="1"><stop offset="0.000" stop-color="#61187f"/><stop offset="0.018" stop-color="#691c80"/><stop offset="0.036" stop-color="#661a80"/><stop offset="0.054" stop-color="#6e1e81"/><stop offset="0.072" stop-color="#651a80"/><stop offset="0.090" stop-color="#842681"/><stop offset="0.108" stop-color="#9c2e7f"/><stop offset="0.126" stop-color="#a6317d"/><stop offset="0.144" stop-color="#c63c73"/><stop offset="0.162" stop-color="#d1426e"/><stop offset="0.180" stop-color="#e85461"/><stop offset="0.198" stop-color="#e75262"/><stop offset="0.216" stop-color="#ec585f"/><stop offset="0.234" stop-color="#eb5660"/><stop offset="0.252" stop-color="#e65162"/><stop offset="0.270" stop-color="#ea5560"/><stop offset="0.288" stop-color="#e04b66"/><stop offset="0.306" stop-color="#ca3e72"/><stop offset="0.324" stop-color="#b1357a"/><stop offset="0.342" stop-color="#8f2a80"/><stop offset="0.360" stop-color="#5e177f"/><stop offset="0.378" stop-color="#2b115e"/><stop offset="0.396" stop-color="#160e3a"/><stop offset="0.414" stop-color="#040415"/><stop offset="0.432" stop-color="#08061d"/><stop offset="0.450" stop-color="#0b0824"/><stop offset="0.468" stop-color="#07051b"/><stop offset="0.486" stop-color="#040313"/><stop offset="0.504" stop-color="#08061d"/><stop offset="0.522" stop-color="#02020f"/><stop offset="0.540" stop-color="#030311"/><stop offset="0.558" stop-color="#0e0a2a"/><stop offset="0.576" stop-color="#040313"/><stop offset="0.594" stop-color="#0d0a28"/><stop offset="0.612" stop-color="#140d35"/><stop offset="0.629" stop-color="#321067"/><stop offset="0.647" stop-color="#52127c"/><stop offset="0.665" stop-color="#5a157e"/><stop offset="0.683" stop-color="#762181"/><stop offset="0.701" stop-color="#8c2980"/><stop offset="0.719" stop-color="#9e2e7e"/><stop offset="0.737" stop-color="#a6317d"/><stop offset="0.755" stop-color="#a9327c"/><stop offset="0.773" stop-color="#b93778"/><stop offset="0.791" stop-color="#b53679"/><stop offset="0.809" stop-color="#b53679"/><stop offset="0.827" stop-color="#b63679"/><stop offset="0.845" stop-color="#b1357a"/><stop offset="0.863" stop-color="#912a80"/><stop offset="0.881" stop-color="#8a2881"/><stop offset="0.899" stop-color="#772181"/><stop offset="0.917" stop-color="#63197f"/><stop offset="0.935" stop-color="#5d177e"/><stop offset="0.953" stop-color="#5b167e"/><stop offset="0.971" stop-color="#57147d"/><stop offset="0.989" stop-color="#55137d"/><stop offset="1.000" stop-color="#4d117a"/></linearGradient><linearGradient id="g29" x1="0" y1="0" x2="0" y2="1"><stop offset="0.000" stop-color="#60187f"/><stop offset="0.018" stop-color="#6b1c80"/><stop offset="0.036" stop-color="#681b80"/><stop offset="0.054" stop-color="#661a80"/><stop offset="0.072" stop-color="#6e1e81"/><stop offset="0.090" stop-color="#892881"/><stop offset="0.108" stop-color="#912a80"/><stop offset="0.126" stop-color="#9f2f7e"/><stop offset="0.144" stop-color="#c03a75"/><stop offset="0.162" stop-color="#d9466a"/><stop offset="0.180" stop-color="#e55063"/><stop offset="0.198" stop-color="#dd4968"/><stop offset="0.216" stop-color="#dc4869"/><stop offset="0.234" stop-color="#ea5560"/><stop offset="0.252" stop-color="#e55063"/><stop offset="0.270" stop-color="#e14c66"/><stop offset="0.288" stop-color="#d6446c"/><stop offset="0.306" stop-color="#d4436d"/><stop offset="0.324" stop-color="#ae347b"/><stop offset="0.342" stop-color="#8d2980"/><stop offset="0.360" stop-color="#661a80"/><stop offset="0.378" stop-color="#2d1060"/><stop offset="0.396" stop-color="#140d35"/><stop offset="0.414" stop-color="#050417"/><stop offset="0.432" stop-color="#01010b"/><stop offset="0.450" stop-color="#030311"/><stop offset="0.468" stop-color="#02020f"/><stop offset="0.486" stop-color="#02020d"/><stop offset="0.504" stop-color="#060519"/><stop offset="0.522" stop-color="#09071f"/><stop offset="0.540" stop-color="#060519"/><stop offset="0.558" stop-color="#02020f"/><stop offset="0.576" stop-color="#02020d"/><stop offset="0.594" stop-color="#100c2f"/><stop offset="0.612" stop-color="#1a1041"/><stop offset="0.629" stop-color="#370f6c"/><stop offset="0.647" stop-color="#4f117b"/><stop offset="0.665" stop-color="#61187f"/><stop offset="0.683" stop-color="#852681"/><stop offset="0.701" stop-color="#892881"/><stop offset="0.719" stop-color="#9a2d7f"/><stop offset="0.737" stop-color="#9f2f7e"/><stop offset="0.755" stop-color="#b63679"/><stop offset="0.773" stop-color="#b53679"/><stop offset="0.791" stop-color="#b3357a"/><stop offset="0.809" stop-color="#b3357a"/><stop offset="0.827" stop-color="#ae347b"/><stop offset="0.845" stop-color="#a6317d"/><stop offset="0.863" stop-color="#842681"/><stop offset="0.881" stop-color="#822581"/><stop offset="0.899" stop-color="#711f81"/><stop offset="0.917" stop-color="#661a80"/><stop offset="0.935" stop-color="#5e177f"/><stop offset="0.953" stop-color="#5e177f"/><stop offset="0.971" stop-color="#53137c"/><stop offset="0.989" stop-color="#52127c"/><stop offset="1.000" stop-color="#55137d"/></linearGradient><linearGradient id="g30" x1="0" y1="0" x2="0" y2="1"><stop offset="0.000" stop-color="#61187f"/><stop offset="0.018" stop-color="#63197f"/><stop offset="0.036" stop-color="#691c80"/><stop offset="0.054" stop-color="#691c80"/><stop offset="0.072" stop-color="#6b1c80"/><stop offset="0.090" stop-color="#7e2481"/><stop offset="0.108" stop-color="#8a2881"/><stop offset="0.126" stop-color="#a4307d"/><stop offset="0.144" stop-color="#b0347b"/><stop offset="0.162" stop-color="#c23a75"/><stop offset="0.180" stop-color="#dc4869"/><stop offset="0.198" stop-color="#d7456b"/><stop offset="0.216" stop-color="#da4769"/><stop offset="0.234" stop-color="#e04b66"/><stop offset="0.252" stop-color="#e44e64"/><stop offset="0.270" stop-color="#d9466a"/><stop offset="0.288" stop-color="#d1426e"/><stop offset="0.306" stop-color="#c83d72"/><stop offset="0.324" stop-color="#ae347b"/><stop offset="0.342" stop-color="#8c2980"/><stop offset="0.360" stop-color="#681b80"/><stop offset="0.378" stop-color="#3c0f71"/><stop offset="0.396" stop-color="#140d35"/><stop offset="0.414" stop-color="#040415"/><stop offset="0.432" stop-color="#030311"/><stop offset="0.450" stop-color="#030311"/><stop offset="0.468" stop-color="#02020f"/><stop offset="0.486" stop-color="#02020f"/><stop offset="0.504" stop-color="#040313"/><stop offset="0.522" stop-color="#060519"/><stop offset="0.540" stop-color="#060519"/><stop offset="0.558" stop-color="#040313"/><stop offset="0.576" stop-color="#060519"/><stop offset="0.594" stop-color="#0a0722"/><stop offset="0.612" stop-color="#261157"/><stop offset="0.629" stop-color="#481078"/><stop offset="0.647" stop-color="#58157e"/><stop offset="0.665" stop-color="#6f1e81"/><stop offset="0.683" stop-color="#7e2481"/><stop offset="0.701" stop-color="#912a80"/><stop offset="0.719" stop-color="#992d7f"/><stop offset="0.737" stop-color="#9c2e7f"/><stop offset="0.755" stop-color="#b0347b"/><stop offset="0.773" stop-color="#ae347b"/><stop offset="0.791" stop-color="#b1357a"/><stop offset="0.809" stop-color="#a9327c"/><stop offset="0.827" stop-color="#a6317d"/><stop offset="0.845" stop-color="#9e2e7e"/><stop offset="0.863" stop-color="#912a80"/><stop offset="0.881" stop-color="#7c2381"/><stop offset="0.899" stop-color="#6f1e81"/><stop offset="0.917" stop-color="#691c80"/><stop offset="0.935" stop-color="#5e177f"/><stop offset="0.953" stop-color="#55137d"/><stop offset="0.971" stop-color="#5a157e"/><stop offset="0.989" stop-color="#4b1079"/><stop offset="1.000" stop-color="#55137d"/></linearGradient><linearGradient id="g31" x1="0" y1="0" x2="0" y2="1"><stop offset="0.000" stop-color="#61187f"/><stop offset="0.018" stop-color="#661a80"/><stop offset="0.036" stop-color="#60187f"/><stop offset="0.054" stop-color="#661a80"/><stop offset="0.072" stop-color="#6f1e81"/><stop offset="0.090" stop-color="#822581"/><stop offset="0.108" stop-color="#8f2a80"/><stop offset="0.126" stop-color="#9e2e7e"/><stop offset="0.144" stop-color="#a9327c"/><stop offset="0.162" stop-color="#c63c73"/><stop offset="0.180" stop-color="#d6446c"/><stop offset="0.198" stop-color="#d7456b"/><stop offset="0.216" stop-color="#e04b66"/><stop offset="0.234" stop-color="#d9466a"/><stop offset="0.252" stop-color="#e55063"/><stop offset="0.270" stop-color="#d4436d"/><stop offset="0.288" stop-color="#cd3f70"/><stop offset="0.306" stop-color="#c53c74"/><stop offset="0.324" stop-color="#a3307e"/><stop offset="0.342" stop-color="#8a2881"/><stop offset="0.360" stop-color="#661a80"/><stop offset="0.378" stop-color="#2d1060"/><stop offset="0.396" stop-color="#120d33"/><stop offset="0.414" stop-color="#02020f"/><stop offset="0.432" stop-color="#040313"/><stop offset="0.450" stop-color="#08061d"/><stop offset="0.468" stop-color="#040313"/><stop offset="0.486" stop-color="#040415"/><stop offset="0.504" stop-color="#050417"/><stop offset="0.522" stop-color="#02020f"/><stop offset="0.540" stop-color="#050417"/><stop offset="0.558" stop-color="#040313"/><stop offset="0.576" stop-color="#040313"/><stop offset="0.594" stop-color="#0a0722"/><stop offset="0.612" stop-color="#1c1046"/><stop offset="0.629" stop-color="#430f75"/><stop offset="0.647" stop-color="#5e177f"/><stop offset="0.665" stop-color="#6b1c80"/><stop offset="0.683" stop-color="#7c2381"/><stop offset="0.701" stop-color="#8a2881"/><stop offset="0.719" stop-color="#942b80"/><stop offset="0.737" stop-color="#992d7f"/><stop offset="0.755" stop-color="#b1357a"/><stop offset="0.773" stop-color="#ab337c"/><stop offset="0.791" stop-color="#ae347b"/><stop offset="0.809" stop-color="#b1357a"/><stop offset="0.827" stop-color="#a3307e"/><stop offset="0.845" stop-color="#942b80"/><stop offset="0.863" stop-color="#872781"/><stop offset="0.881" stop-color="#792281"/><stop offset="0.899" stop-color="#711f81"/><stop offset="0.917" stop-color="#651a80"/><stop offset="0.935" stop-color="#661a80"/><stop offset="0.953" stop-color="#60187f"/><stop offset="0.971" stop-color="#53137c"/><stop offset="0.989" stop-color="#50127b"/><stop offset="1.000" stop-color="#50127b"/></linearGradient><linearGradient id="g32" x1="0" y1="0" x2="0" y2="1"><stop offset="0.000" stop-color="#60187f"/><stop offset="0.018" stop-color="#61187f"/><stop offset="0.036" stop-color="#6c1d80"/><stop offset="0.054" stop-color="#661a80"/><stop offset="0.072" stop-color="#6b1c80"/><stop offset="0.090" stop-color="#7a2281"/><stop offset="0.108" stop-color="#7f2481"/><stop offset="0.126" stop-color="#9a2d7f"/><stop offset="0.144" stop-color="#ae347b"/><stop offset="0.162" stop-color="#c53c74"/><stop offset="0.180" stop-color="#cb3e71"/><stop offset="0.198" stop-color="#d1426e"/><stop offset="0.216" stop-color="#d7456b"/><stop offset="0.234" stop-color="#d7456b"/><stop offset="0.252" stop-color="#d4436d"/><stop offset="0.270" stop-color="#d7456b"/><stop offset="0.288" stop-color="#cb3e71"/><stop offset="0.306" stop-color="#c53c74"/><stop offset="0.324" stop-color="#a3307e"/><stop offset="0.342" stop-color="#912a80"/><stop offset="0.360" stop-color="#651a80"/><stop offset="0.378" stop-color="#341068"/><stop offset="0.396" stop-color="#1a1041"/><stop offset="0.414" stop-color="#0a0722"/><stop offset="0.432" stop-color="#030311"/><stop offset="0.450" stop-color="#08061d"/><stop offset="0.468" stop-color="#0a0722"/><stop offset="0.486" stop-color="#060519"/><stop offset="0.504" stop-color="#02020f"/><stop offset="0.522" stop-color="#07051b"/><stop offset="0.540" stop-color="#08061d"/><stop offset="0.558" stop-color="#030311"/><stop offset="0.576" stop-color="#0a0722"/><stop offset="0.594" stop-color="#100c2f"/><stop offset="0.612" stop-color="#221150"/><stop offset="0.629" stop-color="#450f76"/><stop offset="0.647" stop-color="#5b167e"/><stop offset="0.665" stop-color="#731f81"/><stop offset="0.683" stop-color="#7c2381"/><stop offset="0.701" stop-color="#8d2980"/><stop offset="0.719" stop-color="#992d7f"/><stop offset="0.737" stop-color="#a12f7e"/><stop offset="0.755" stop-color="#a9327c"/><stop offset="0.773" stop-color="#ae347b"/><stop offset="0.791" stop-color="#a7317d"/><stop offset="0.809" stop-color="#ab337c"/><stop offset="0.827" stop-color="#a12f7e"/><stop offset="0.845" stop-color="#992d7f"/><stop offset="0.863" stop-color="#872781"/><stop offset="0.881" stop-color="#792281"/><stop offset="0.899" stop-color="#6c1d80"/><stop offset="0.917" stop-color="#661a80"/><stop offset="0.935" stop-color="#681b80"/><stop offset="0.953" stop-color="#5e177f"/><stop offset="0.971" stop-color="#5e177f"/><stop offset="0.989" stop-color="#57147d"/><stop offset="1.000" stop-color="#53137c"/></linearGradient><linearGradient id="g33" x1="0" y1="0" x2="0" y2="1"><stop offset="0.000" stop-color="#60187f"/><stop offset="0.018" stop-color="#5d177e"/><stop offset="0.036" stop-color="#691c80"/><stop offset="0.054" stop-color="#691c80"/><stop offset="0.072" stop-color="#6c1d80"/><stop offset="0.090" stop-color="#7c2381"/><stop offset="0.108" stop-color="#822581"/><stop offset="0.126" stop-color="#9e2e7e"/><stop offset="0.144" stop-color="#9e2e7e"/><stop offset="0.162" stop-color="#b93778"/><stop offset="0.180" stop-color="#c33b74"/><stop offset="0.198" stop-color="#ce4070"/><stop offset="0.216" stop-color="#d7456b"/><stop offset="0.234" stop-color="#ce4070"/><stop offset="0.252" stop-color="#d7456b"/><stop offset="0.270" stop-color="#d1426e"/><stop offset="0.288" stop-color="#ca3e72"/><stop offset="0.306" stop-color="#c23a75"/><stop offset="0.324" stop-color="#a9327c"/><stop offset="0.342" stop-color="#8c2980"/><stop offset="0.360" stop-color="#681b80"/><stop offset="0.378" stop-color="#3e0f72"/><stop offset="0.396" stop-color="#1b1044"/><stop offset="0.414" stop-color="#07051b"/><stop offset="0.432" stop-color="#02020f"/><stop offset="0.450" stop-color="#07051b"/><stop offset="0.468" stop-color="#040415"/><stop offset="0.486" stop-color="#0a0722"/><stop offset="0.504" stop-color="#040313"/><stop offset="0.522" stop-color="#02020f"/><stop offset="0.540" stop-color="#08061d"/><stop offset="0.558" stop-color="#040313"/><stop offset="0.576" stop-color="#030311"/><stop offset="0.594" stop-color="#170f3c"/><stop offset="0.612" stop-color="#1e1049"/><stop offset="0.629" stop-color="#481078"/><stop offset="0.647" stop-color="#57147d"/><stop offset="0.665" stop-color="#6f1e81"/><stop offset="0.683" stop-color="#7c2381"/><stop offset="0.701" stop-color="#812581"/><stop offset="0.719" stop-color="#952c80"/><stop offset="0.737" stop-color="#9a2d7f"/><stop offset="0.755" stop-color="#a4307d"/><stop offset="0.773" stop-color="#ab337c"/><stop offset="0.791" stop-color="#ae347b"/><stop offset="0.809" stop-color="#a12f7e"/><stop offset="0.827" stop-color="#9c2e7f"/><stop offset="0.845" stop-color="#9a2d7f"/><stop offset="0.863" stop-color="#852681"/><stop offset="0.881" stop-color="#7c2381"/><stop offset="0.899" stop-color="#681b80"/><stop offset="0.917" stop-color="#60187f"/><stop offset="0.935" stop-color="#5e177f"/><stop offset="0.953" stop-color="#5d177e"/><stop offset="0.971" stop-color="#5d177e"/><stop offset="0.989" stop-color="#651a80"/><stop offset="1.000" stop-color="#4f117b"/></linearGradient><linearGradient id="g34" x1="0" y1="0" x2="0" y2="1"><stop offset="0.000" stop-color="#61187f"/><stop offset="0.018" stop-color="#681b80"/><stop offset="0.036" stop-color="#691c80"/><stop offset="0.054" stop-color="#6e1e81"/><stop offset="0.072" stop-color="#6b1c80"/><stop offset="0.090" stop-color="#731f81"/><stop offset="0.108" stop-color="#8d2980"/><stop offset="0.126" stop-color="#942b80"/><stop offset="0.144" stop-color="#9a2d7f"/><stop offset="0.162" stop-color="#b1357a"/><stop offset="0.180" stop-color="#c33b74"/><stop offset="0.198" stop-color="#c33b74"/><stop offset="0.216" stop-color="#d1426e"/><stop offset="0.234" stop-color="#d1426e"/><stop offset="0.252" stop-color="#d1426e"/><stop offset="0.270" stop-color="#ca3e72"/><stop offset="0.288" stop-color="#ce4070"/><stop offset="0.306" stop-color="#bd3977"/><stop offset="0.324" stop-color="#9e2e7e"/><stop offset="0.342" stop-color="#7e2481"/><stop offset="0.360" stop-color="#60187f"/><stop offset="0.378" stop-color="#3e0f72"/><stop offset="0.396" stop-color="#20114d"/><stop offset="0.414" stop-color="#050417"/><stop offset="0.432" stop-color="#01010b"/><stop offset="0.450" stop-color="#050417"/><stop offset="0.468" stop-color="#050417"/><stop offset="0.486" stop-color="#08061d"/><stop offset="0.504" stop-color="#040313"/><stop offset="0.522" stop-color="#050417"/><stop offset="0.540" stop-color="#01010b"/><stop offset="0.558" stop-color="#02020f"/><stop offset="0.576" stop-color="#060519"/><stop offset="0.594" stop-color="#120d33"/><stop offset="0.612" stop-color="#2a115c"/><stop offset="0.629" stop-color="#4a1079"/><stop offset="0.647" stop-color="#55137d"/><stop offset="0.665" stop-color="#762181"/><stop offset="0.683" stop-color="#772181"/><stop offset="0.701" stop-color="#872781"/><stop offset="0.719" stop-color="#992d7f"/><stop offset="0.737" stop-color="#8f2a80"/><stop offset="0.755" stop-color="#9a2d7f"/><stop offset="0.773" stop-color="#a12f7e"/><stop offset="0.791" stop-color="#a3307e"/><stop offset="0.809" stop-color="#a4307d"/><stop offset="0.827" stop-color="#9e2e7e"/><stop offset="0.845" stop-color="#872781"/><stop offset="0.863" stop-color="#822581"/><stop offset="0.881" stop-color="#742081"/><stop offset="0.899" stop-color="#742081"/><stop offset="0.917" stop-color="#651a80"/><stop offset="0.935" stop-color="#661a80"/><stop offset="0.953" stop-color="#58157e"/><stop offset="0.971" stop-color="#5e177f"/><stop offset="0.989" stop-color="#50127b"/><stop offset="1.000" stop-color="#55137d"/></linearGradient><linearGradient id="g35" x1="0" y1="0" x2="0" y2="1"><stop offset="0.000" stop-color="#5b167e"/><stop offset="0.018" stop-color="#651a80"/><stop offset="0.036" stop-color="#63197f"/><stop offset="0.054" stop-color="#651a80"/><stop offset="0.072" stop-color="#6c1d80"/><stop offset="0.090" stop-color="#792281"/><stop offset="0.108" stop-color="#812581"/><stop offset="0.126" stop-color="#8f2a80"/><stop offset="0.144" stop-color="#9f2f7e"/><stop offset="0.162" stop-color="#b3357a"/><stop offset="0.180" stop-color="#c23a75"/><stop offset="0.198" stop-color="#c63c73"/><stop offset="0.216" stop-color="#d3426d"/><stop offset="0.234" stop-color="#ca3e72"/><stop offset="0.252" stop-color="#d3426d"/><stop offset="0.270" stop-color="#c33b74"/><stop offset="0.288" stop-color="#ce4070"/><stop offset="0.306" stop-color="#b83778"/><stop offset="0.324" stop-color="#a12f7e"/><stop offset="0.342" stop-color="#8d2980"/><stop offset="0.360" stop-color="#63197f"/><stop offset="0.378" stop-color="#370f6c"/><stop offset="0.396" stop-color="#150e38"/><stop offset="0.414" stop-color="#09071f"/><stop offset="0.432" stop-color="#0b0824"/><stop offset="0.450" stop-color="#050417"/><stop offset="0.468" stop-color="#0a0722"/><stop offset="0.486" stop-color="#07051b"/><stop offset="0.504" stop-color="#040415"/><stop offset="0.522" stop-color="#02020f"/><stop offset="0.540" stop-color="#040415"/><stop offset="0.558" stop-color="#07051b"/><stop offset="0.576" stop-color="#08061d"/><stop offset="0.594" stop-color="#160e3a"/><stop offset="0.612" stop-color="#2d1060"/><stop offset="0.629" stop-color="#450f76"/><stop offset="0.647" stop-color="#57147d"/><stop offset="0.665" stop-color="#6c1d80"/><stop offset="0.683" stop-color="#7e2481"/><stop offset="0.701" stop-color="#842681"/><stop offset="0.719" stop-color="#8c2980"/><stop offset="0.737" stop-color="#922b80"/><stop offset="0.755" stop-color="#9e2e7e"/><stop offset="0.773" stop-color="#a12f7e"/><stop offset="0.791" stop-color="#9e2e7e"/><stop offset="0.809" stop-color="#942b80"/><stop offset="0.827" stop-color="#942b80"/><stop offset="0.845" stop-color="#852681"/><stop offset="0.863" stop-color="#792281"/><stop offset="0.881" stop-color="#6b1c80"/><stop offset="0.899" stop-color="#681b80"/><stop offset="0.917" stop-color="#61187f"/><stop offset="0.935" stop-color="#61187f"/><stop offset="0.953" stop-color="#60187f"/><stop offset="0.971" stop-color="#5b167e"/><stop offset="0.989" stop-color="#58157e"/><stop offset="1.000" stop-color="#50127b"/></linearGradient><linearGradient id="g36" x1="0" y1="0" x2="0" y2="1"><stop offset="0.000" stop-color="#681b80"/><stop offset="0.018" stop-color="#691c80"/><stop offset="0.036" stop-color="#6b1c80"/><stop offset="0.054" stop-color="#661a80"/><stop offset="0.072" stop-color="#6b1c80"/><stop offset="0.090" stop-color="#6f1e81"/><stop offset="0.108" stop-color="#772181"/><stop offset="0.126" stop-color="#872781"/><stop offset="0.144" stop-color="#8f2a80"/><stop offset="0.162" stop-color="#9e2e7e"/><stop offset="0.180" stop-color="#b93778"/><stop offset="0.198" stop-color="#c23a75"/><stop offset="0.216" stop-color="#c83d72"/><stop offset="0.234" stop-color="#c63c73"/><stop offset="0.252" stop-color="#cb3e71"/><stop offset="0.270" stop-color="#c83d72"/><stop offset="0.288" stop-color="#bd3977"/><stop offset="0.306" stop-color="#ac337b"/><stop offset="0.324" stop-color="#a9327c"/><stop offset="0.342" stop-color="#8a2881"/><stop offset="0.360" stop-color="#6b1c80"/><stop offset="0.378" stop-color="#3c0f71"/><stop offset="0.396" stop-color="#1a1041"/><stop offset="0.414" stop-color="#0b0824"/><stop offset="0.432" stop-color="#060519"/><stop offset="0.450" stop-color="#02020f"/><stop offset="0.468" stop-color="#040313"/><stop offset="0.486" stop-color="#07051b"/><stop offset="0.504" stop-color="#0a0722"/><stop offset="0.522" stop-color="#07051b"/><stop offset="0.540" stop-color="#040415"/><stop offset="0.558" stop-color="#02020f"/><stop offset="0.576" stop-color="#100c2f"/><stop offset="0.594" stop-color="#170f3c"/><stop offset="0.612" stop-color="#301065"/><stop offset="0.629" stop-color="#4a1079"/><stop offset="0.647" stop-color="#58157e"/><stop offset="0.665" stop-color="#772181"/><stop offset="0.683" stop-color="#7e2481"/><stop offset="0.701" stop-color="#8d2980"/><stop offset="0.719" stop-color="#8c2980"/><stop offset="0.737" stop-color="#952c80"/><stop offset="0.755" stop-color="#a3307e"/><stop offset="0.773" stop-color="#9c2e7f"/><stop offset="0.791" stop-color="#972c7f"/><stop offset="0.809" stop-color="#922b80"/><stop offset="0.827" stop-color="#8a2881"/><stop offset="0.845" stop-color="#8a2881"/><stop offset="0.863" stop-color="#7a2281"/><stop offset="0.881" stop-color="#6b1c80"/><stop offset="0.899" stop-color="#731f81"/><stop offset="0.917" stop-color="#6b1c80"/><stop offset="0.935" stop-color="#661a80"/><stop offset="0.953" stop-color="#55137d"/><stop offset="0.971" stop-color="#5b167e"/><stop offset="0.989" stop-color="#5e177f"/><stop offset="1.000" stop-color="#52127c"/></linearGradient><linearGradient id="g37" x1="0" y1="0" x2="0" y2="1"><stop offset="0.000" stop-color="#60187f"/><stop offset="0.018" stop-color="#651a80"/><stop offset="0.036" stop-color="#5d177e"/><stop offset="0.054" stop-color="#691c80"/><stop offset="0.072" stop-color="#6f1e81"/><stop offset="0.090" stop-color="#742081"/><stop offset="0.108" stop-color="#822581"/><stop offset="0.126" stop-color="#852681"/><stop offset="0.144" stop-color="#912a80"/><stop offset="0.162" stop-color="#9f2f7e"/><stop offset="0.180" stop-color="#ac337b"/><stop offset="0.198" stop-color="#b53679"/><stop offset="0.216" stop-color="#bb3877"/><stop offset="0.234" stop-color="#c33b74"/><stop offset="0.252" stop-color="#c53c74"/><stop offset="0.270" stop-color="#c23a75"/><stop offset="0.288" stop-color="#bb3877"/><stop offset="0.306" stop-color="#b63679"/><stop offset="0.324" stop-color="#992d7f"/><stop offset="0.342" stop-color="#792281"/><stop offset="0.360" stop-color="#60187f"/><stop offset="0.378" stop-color="#470f77"/><stop offset="0.396" stop-color="#221150"/><stop offset="0.414" stop-color="#0b0824"/><stop offset="0.432" stop-color="#050417"/><stop offset="0.450" stop-color="#050417"/><stop offset="0.468" stop-color="#040415"/><stop offset="0.486" stop-color="#060519"/><stop offset="0.504" stop-color="#07051b"/><stop offset="0.522" stop-color="#09071f"/><stop offset="0.540" stop-color="#040415"/><stop offset="0.558" stop-color="#040415"/><stop offset="0.576" stop-color="#0a0722"/><stop offset="0.594" stop-color="#180f3f"/><stop offset="0.612" stop-color="#341068"/><stop offset="0.629" stop-color="#481078"/><stop offset="0.647" stop-color="#6b1c80"/><stop offset="0.665" stop-color="#6f1e81"/><stop offset="0.683" stop-color="#7f2481"/><stop offset="0.701" stop-color="#822581"/><stop offset="0.719" stop-color="#8c2980"/><stop offset="0.737" stop-color="#912a80"/><stop offset="0.755" stop-color="#992d7f"/><stop offset="0.773" stop-color="#912a80"/><stop offset="0.791" stop-color="#9a2d7f"/><stop offset="0.809" stop-color="#8c2980"/><stop offset="0.827" stop-color="#8f2a80"/><stop offset="0.845" stop-color="#872781"/><stop offset="0.863" stop-color="#792281"/><stop offset="0.881" stop-color="#711f81"/><stop offset="0.899" stop-color="#6b1c80"/><stop offset="0.917" stop-color="#63197f"/><stop offset="0.935" stop-color="#61187f"/><stop offset="0.953" stop-color="#63197f"/><stop offset="0.971" stop-color="#5e177f"/><stop offset="0.989" stop-color="#60187f"/><stop offset="1.000" stop-color="#57147d"/></linearGradient><linearGradient id="g38" x1="0" y1="0" x2="0" y2="1"><stop offset="0.000" stop-color="#61187f"/><stop offset="0.018" stop-color="#63197f"/><stop offset="0.036" stop-color="#61187f"/><stop offset="0.054" stop-color="#681b80"/><stop offset="0.072" stop-color="#681b80"/><stop offset="0.090" stop-color="#772181"/><stop offset="0.108" stop-color="#7c2381"/><stop offset="0.126" stop-color="#8a2881"/><stop offset="0.144" stop-color="#842681"/><stop offset="0.162" stop-color="#9e2e7e"/><stop offset="0.180" stop-color="#b0347b"/><stop offset="0.198" stop-color="#b83778"/><stop offset="0.216" stop-color="#b83778"/><stop offset="0.234" stop-color="#c03a75"/><stop offset="0.252" stop-color="#c53c74"/><stop offset="0.270" stop-color="#be3976"/><stop offset="0.288" stop-color="#b93778"/><stop offset="0.306" stop-color="#b53679"/><stop offset="0.324" stop-color="#9a2d7f"/><stop offset="0.342" stop-color="#842681"/><stop offset="0.360" stop-color="#651a80"/><stop offset="0.378" stop-color="#420f74"/><stop offset="0.396" stop-color="#1e1049"/><stop offset="0.414" stop-color="#0f0b2c"/><stop offset="0.432" stop-color="#050417"/><stop offset="0.450" stop-color="#08061d"/><stop offset="0.468" stop-color="#040415"/><stop offset="0.486" stop-color="#050417"/><stop offset="0.504" stop-color="#050417"/><stop offset="0.522" stop-color="#030311"/><stop offset="0.540" stop-color="#09071f"/><stop offset="0.558" stop-color="#07051b"/><stop offset="0.576" stop-color="#0d0a28"/><stop offset="0.594" stop-color="#1f114b"/><stop offset="0.612" stop-color="#301065"/><stop offset="0.629" stop-color="#4f117b"/><stop offset="0.647" stop-color="#661a80"/><stop offset="0.665" stop-color="#7a2281"/><stop offset="0.683" stop-color="#7a2281"/><stop offset="0.701" stop-color="#8d2980"/><stop offset="0.719" stop-color="#8d2980"/><stop offset="0.737" stop-color="#8d2980"/><stop offset="0.755" stop-color="#992d7f"/><stop offset="0.773" stop-color="#9e2e7e"/><stop offset="0.791" stop-color="#952c80"/><stop offset="0.809" stop-color="#942b80"/><stop offset="0.827" stop-color="#842681"/><stop offset="0.845" stop-color="#762181"/><stop offset="0.863" stop-color="#772181"/><stop offset="0.881" stop-color="#691c80"/><stop offset="0.899" stop-color="#691c80"/><stop offset="0.917" stop-color="#61187f"/><stop offset="0.935" stop-color="#61187f"/><stop offset="0.953" stop-color="#63197f"/><stop offset="0.971" stop-color="#53137c"/><stop offset="0.989" stop-color="#58157e"/><stop offset="1.000" stop-color="#57147d"/></linearGradient><linearGradient id="g39" x1="0" y1="0" x2="0" y2="1"><stop offset="0.000" stop-color="#6b1c80"/><stop offset="0.018" stop-color="#661a80"/><stop offset="0.036" stop-color="#63197f"/><stop offset="0.054" stop-color="#661a80"/><stop offset="0.072" stop-color="#731f81"/><stop offset="0.090" stop-color="#691c80"/><stop offset="0.108" stop-color="#762181"/><stop offset="0.126" stop-color="#7f2481"/><stop offset="0.144" stop-color="#822581"/><stop offset="0.162" stop-color="#912a80"/><stop offset="0.180" stop-color="#9a2d7f"/><stop offset="0.198" stop-color="#ac337b"/><stop offset="0.216" stop-color="#b93778"/><stop offset="0.234" stop-color="#bd3977"/><stop offset="0.252" stop-color="#b63679"/><stop offset="0.270" stop-color="#c03a75"/><stop offset="0.288" stop-color="#ac337b"/><stop offset="0.306" stop-color="#a7317d"/><stop offset="0.324" stop-color="#9e2e7e"/><stop offset="0.342" stop-color="#822581"/><stop offset="0.360" stop-color="#63197f"/><stop offset="0.378" stop-color="#481078"/><stop offset="0.396" stop-color="#221150"/><stop offset="0.414" stop-color="#100c2f"/><stop offset="0.432" stop-color="#050417"/><stop offset="0.450" stop-color="#050417"/><stop offset="0.468" stop-color="#050417"/><stop offset="0.486" stop-color="#08061d"/><stop offset="0.504" stop-color="#040313"/><stop offset="0.522" stop-color="#040415"/><stop offset="0.540" stop-color="#010109"/><stop offset="0.558" stop-color="#02020d"/><stop offset="0.576" stop-color="#0f0b2c"/><stop offset="0.594" stop-color="#1a1041"/><stop offset="0.612" stop-color="#321067"/><stop offset="0.629" stop-color="#53137c"/><stop offset="0.647" stop-color="#60187f"/><stop offset="0.665" stop-color="#6e1e81"/><stop offset="0.683" stop-color="#772181"/><stop offset="0.701" stop-color="#7a2281"/><stop offset="0.719" stop-color="#8c2980"/><stop offset="0.737" stop-color="#952c80"/><stop offset="0.755" stop-color="#992d7f"/><stop offset="0.773" stop-color="#942b80"/><stop offset="0.791" stop-color="#922b80"/><stop offset="0.809" stop-color="#8f2a80"/><stop offset="0.827" stop-color="#8c2980"/><stop offset="0.845" stop-color="#822581"/><stop offset="0.863" stop-color="#731f81"/><stop offset="0.881" stop-color="#6e1e81"/><stop offset="0.899" stop-color="#681b80"/><stop offset="0.917" stop-color="#60187f"/><stop offset="0.935" stop-color="#5e177f"/><stop offset="0.953" stop-color="#5d177e"/><stop offset="0.971" stop-color="#50127b"/><stop offset="0.989" stop-color="#5a157e"/><stop offset="1.000" stop-color="#55137d"/></linearGradient><linearGradient id="cbar" x1="0" y1="0" x2="1" y2="0"><stop offset="0.00" stop-color="#000003"/><stop offset="0.10" stop-color="#140d35"/><stop offset="0.20" stop-color="#3b0f6f"/><stop offset="0.30" stop-color="#63197f"/><stop offset="0.40" stop-color="#8c2980"/><stop offset="0.50" stop-color="#b63679"/><stop offset="0.60" stop-color="#dd4968"/><stop offset="0.70" stop-color="#f6705b"/><stop offset="0.80" stop-color="#fd9f6c"/><stop offset="0.90" stop-color="#fdcf92"/><stop offset="1.00" stop-color="#fbfcbf"/></linearGradient></defs>
<g><rect x="52" y="170" width="4" height="111.5" fill="url(#g0)" shape-rendering="crispEdges"/><rect x="56" y="170" width="4" height="111.5" fill="url(#g1)" shape-rendering="crispEdges"/><rect x="60" y="170" width="4" height="111.5" fill="url(#g2)" shape-rendering="crispEdges"/><rect x="64" y="170" width="4" height="111.5" fill="url(#g3)" shape-rendering="crispEdges"/><rect x="68" y="170" width="4" height="111.5" fill="url(#g4)" shape-rendering="crispEdges"/><rect x="72" y="170" width="4" height="111.5" fill="url(#g5)" shape-rendering="crispEdges"/><rect x="76" y="170" width="4" height="111.5" fill="url(#g6)" shape-rendering="crispEdges"/><rect x="80" y="170" width="4" height="111.5" fill="url(#g7)" shape-rendering="crispEdges"/><rect x="84" y="170" width="4" height="111.5" fill="url(#g8)" shape-rendering="crispEdges"/><rect x="88" y="170" width="4" height="111.5" fill="url(#g9)" shape-rendering="crispEdges"/><rect x="92" y="170" width="4" height="111.5" fill="url(#g10)" shape-rendering="crispEdges"/><rect x="96" y="170" width="4" height="111.5" fill="url(#g11)" shape-rendering="crispEdges"/><rect x="100" y="170" width="4" height="111.5" fill="url(#g12)" shape-rendering="crispEdges"/><rect x="104" y="170" width="4" height="111.5" fill="url(#g13)" shape-rendering="crispEdges"/><rect x="108" y="170" width="4" height="111.5" fill="url(#g14)" shape-rendering="crispEdges"/><rect x="112" y="170" width="4" height="111.5" fill="url(#g15)" shape-rendering="crispEdges"/><rect x="116" y="170" width="4" height="111.5" fill="url(#g16)" shape-rendering="crispEdges"/><rect x="120" y="170" width="4" height="111.5" fill="url(#g17)" shape-rendering="crispEdges"/><rect x="124" y="170" width="4" height="111.5" fill="url(#g18)" shape-rendering="crispEdges"/><rect x="128" y="170" width="4" height="111.5" fill="url(#g19)" shape-rendering="crispEdges"/><rect x="132" y="170" width="4" height="111.5" fill="url(#g20)" shape-rendering="crispEdges"/><rect x="136" y="170" width="4" height="111.5" fill="url(#g21)" shape-rendering="crispEdges"/><rect x="140" y="170" width="4" height="111.5" fill="url(#g22)" shape-rendering="crispEdges"/><rect x="144" y="170" width="4" height="111.5" fill="url(#g23)" shape-rendering="crispEdges"/><rect x="148" y="170" width="4" height="111.5" fill="url(#g24)" shape-rendering="crispEdges"/><rect x="152" y="170" width="4" height="111.5" fill="url(#g25)" shape-rendering="crispEdges"/><rect x="156" y="170" width="4" height="111.5" fill="url(#g26)" shape-rendering="crispEdges"/><rect x="160" y="170" width="4" height="111.5" fill="url(#g27)" shape-rendering="crispEdges"/><rect x="164" y="170" width="4" height="111.5" fill="url(#g28)" shape-rendering="crispEdges"/><rect x="168" y="170" width="4" height="111.5" fill="url(#g29)" shape-rendering="crispEdges"/><rect x="172" y="170" width="4" height="111.5" fill="url(#g30)" shape-rendering="crispEdges"/><rect x="176" y="170" width="4" height="111.5" fill="url(#g31)" shape-rendering="crispEdges"/><rect x="180" y="170" width="4" height="111.5" fill="url(#g32)" shape-rendering="crispEdges"/><rect x="184" y="170" width="4" height="111.5" fill="url(#g33)" shape-rendering="crispEdges"/><rect x="188" y="170" width="4" height="111.5" fill="url(#g34)" shape-rendering="crispEdges"/><rect x="192" y="170" width="4" height="111.5" fill="url(#g35)" shape-rendering="crispEdges"/><rect x="196" y="170" width="4" height="111.5" fill="url(#g36)" shape-rendering="crispEdges"/><rect x="200" y="170" width="4" height="111.5" fill="url(#g37)" shape-rendering="crispEdges"/><rect x="204" y="170" width="4" height="111.5" fill="url(#g38)" shape-rendering="crispEdges"/><rect x="208" y="170" width="4" height="111.5" fill="url(#g39)" shape-rendering="crispEdges"/></g>
<rect x="73.1" y="177.10" width="2" height="2" fill="#fff"/>
<rect x="73.1" y="182.53" width="2" height="2" fill="#fff"/>
<rect x="73.1" y="187.96" width="2" height="2" fill="#fff"/>
<rect x="73.1" y="193.39" width="2" height="2" fill="#fff"/>
<rect x="73.1" y="198.82" width="2" height="2" fill="#fff"/>
<rect x="73.1" y="204.25" width="2" height="2" fill="#fff"/>
<rect x="73.1" y="209.68" width="2" height="2" fill="#fff"/>
<rect x="73.1" y="215.11" width="2" height="2" fill="#fff"/>
<rect x="73.1" y="220.54" width="2" height="2" fill="#fff"/>
<rect x="73.1" y="225.97" width="2" height="2" fill="#fff"/>
<rect x="73.1" y="231.40" width="2" height="2" fill="#fff"/>
<rect x="73.1" y="236.83" width="2" height="2" fill="#fff"/>
<rect x="73.1" y="242.26" width="2" height="2" fill="#fff"/>
<rect x="73.1" y="247.69" width="2" height="2" fill="#fff"/>
<rect x="73.1" y="253.12" width="2" height="2" fill="#fff"/>
<rect x="73.1" y="258.55" width="2" height="2" fill="#fff"/>
<rect x="73.1" y="263.98" width="2" height="2" fill="#fff"/>
<rect x="73.1" y="269.41" width="2" height="2" fill="#fff"/>
<rect x="73.1" y="274.84" width="2" height="2" fill="#fff"/>
<rect x="51.5" y="170.2" width="160.8" height="111.2" fill="none" stroke="#000" stroke-width="1"/>
<line x1="47.5" y1="174" x2="51.5" y2="174" stroke="#000" stroke-width="1"/>
<line x1="47.5" y1="226" x2="51.5" y2="226" stroke="#000" stroke-width="1"/>
<line x1="47.5" y1="277" x2="51.5" y2="277" stroke="#000" stroke-width="1"/>
<line x1="51.7" y1="281.4" x2="51.7" y2="286.2" stroke="#000" stroke-width="1"/>
<line x1="105.2" y1="281.4" x2="105.2" y2="286.2" stroke="#000" stroke-width="1"/>
<line x1="158.6" y1="281.4" x2="158.6" y2="286.2" stroke="#000" stroke-width="1"/>
<line x1="212.1" y1="281.4" x2="212.1" y2="286.2" stroke="#000" stroke-width="1"/>
<text x="21.40" y="179.00" font-size="14.6" text-anchor="start" textLength="20.50" lengthAdjust="spacingAndGlyphs" fill="#000" stroke="#000" stroke-width="0.08" >0.6</text>
<text x="33.80" y="231.20" font-size="14.6" text-anchor="start" textLength="6.90" lengthAdjust="spacingAndGlyphs" fill="#000" stroke="#000" stroke-width="0.08" >0</text>
<text x="15.60" y="282.00" font-size="14.6" text-anchor="start" textLength="26.30" lengthAdjust="spacingAndGlyphs" fill="#000" stroke="#000" stroke-width="0.08" >-0.6</text>
<text x="48.00" y="301.90" font-size="14.6" text-anchor="start" textLength="7.70" lengthAdjust="spacingAndGlyphs" fill="#000" stroke="#000" stroke-width="0.08" >0</text>
<text x="94.80" y="302.30" font-size="14.6" text-anchor="start" textLength="20.50" lengthAdjust="spacingAndGlyphs" fill="#000" stroke="#000" stroke-width="0.08" >0.2</text>
<text x="148.30" y="302.30" font-size="14.6" text-anchor="start" textLength="20.70" lengthAdjust="spacingAndGlyphs" fill="#000" stroke="#000" stroke-width="0.08" >0.4</text>
<text x="201.70" y="302.00" font-size="14.6" text-anchor="start" textLength="20.90" lengthAdjust="spacingAndGlyphs" fill="#000" stroke="#000" stroke-width="0.08" >0.6</text>
<text x="116.00" y="314.30" font-size="13" text-anchor="start" textLength="33.30" lengthAdjust="spacingAndGlyphs" fill="#000" stroke="#000" stroke-width="0.08" ><tspan font-style="italic">B</tspan> (T)</text>
<text x="25.70" y="163.10" font-size="13.6" text-anchor="start" textLength="17.70" lengthAdjust="spacingAndGlyphs" fill="#000" stroke="#000" stroke-width="0.08" >(b)</text>
<rect x="170" y="162.2" width="42.4" height="5.2" fill="url(#cbar)" stroke="#000" stroke-width="0.9"/>
<line x1="170" y1="157" x2="170" y2="162.2" stroke="#000" stroke-width="1"/>
<line x1="212.4" y1="157" x2="212.4" y2="162.2" stroke="#000" stroke-width="1"/>
<text x="159.50" y="154.50" font-size="14.6" text-anchor="start" textLength="20.70" lengthAdjust="spacingAndGlyphs" fill="#000" stroke="#000" stroke-width="0.08" >0.0</text>
<text x="201.40" y="154.50" font-size="14.6" text-anchor="start" textLength="20.30" lengthAdjust="spacingAndGlyphs" fill="#000" stroke="#000" stroke-width="0.08" >0.1</text>
<text x="105.40" y="164.30" font-size="13" text-anchor="start" textLength="46.60" lengthAdjust="spacingAndGlyphs" fill="#000" stroke="#000" stroke-width="0.08" ><tspan font-style="italic">g</tspan>(e<tspan font-size="9" dy="-5">2</tspan><tspan dy="5">/</tspan><tspan font-style="italic">h</tspan>)</text>
<g transform="translate(19.6,225.3) rotate(-90)">
<text x="-26.90" y="0.00" font-size="13" text-anchor="start" textLength="53.80" lengthAdjust="spacingAndGlyphs" fill="#000" stroke="#000" stroke-width="0.08" ><tspan font-style="italic">V</tspan><tspan font-size="9" dy="2.5">B</tspan><tspan dy="-2.5"> (mV)</tspan></text>
</g>
<polyline clip-path="url(#cc)" points="51.5,412.3 53.9,411.5 55.9,413.1 57.5,411.5 58.6,406.9 60.1,407.6 61.7,404.5 63.2,399.8 64.8,399.1 65.6,392.1 66.4,375.7 67.4,374.1 68.7,376.5 69.5,367.1 70.2,360.9 71.5,365.6 72.3,361.7 73.7,360.1 74.6,368.7 75.7,374.1 77.3,372.6 78.5,374.1 79.6,380.4 80.8,377.3 81.9,380.4 83.0,378.0 84.3,382.7 85.5,378.0 87.1,383.5 88.2,377.3 89.3,374.9 90.5,377.3 91.7,369.5 92.8,374.1 95.2,374.9 96.7,377.3 98.3,382.7 99.5,383.5 100.2,396.7 101.4,403.7 103.0,404.5 103.7,415.4 104.5,420.1 105.8,418.8 108.0,422.4 110.1,424.6 113.0,426.0 115.9,426.7 118.8,427.5 121.7,426.0 124.6,426.7 128.9,427.5 130.0,427.0 132.3,426.2 134.7,427.8 137.0,427.0 139.3,428.5 141.7,427.0 144.0,425.4 146.4,427.8 148.7,423.1 150.6,423.9 151.8,419.2 153.0,413.0 154.6,417.6 156.2,410.6 157.3,406.0 158.3,401.3 160.4,395.8 161.2,384.9 161.9,374.0 163.0,370.9 163.4,367.8 164.7,348.4 166.2,346.0 167.5,335.1 168.6,333.6 169.7,335.9 170.9,340.6 172.5,340.6 173.7,353.0 174.8,358.5 175.6,351.5 176.8,355.4 177.9,362.4 179.5,358.5 181.0,365.5 183.1,362.4 184.1,366.3 185.7,353.0 186.8,345.2 187.7,354.6 188.8,348.4 190.4,341.4 191.9,342.9 193.0,351.5 194.6,355.4 196.1,356.9 197.4,373.3 198.6,381.1 200.2,381.1 201.7,394.3 203.9,395.9 206.0,393.5 207.5,390.4 209.1,392.0 210.6,382.6 211.7,383.4 212.3,384.0" fill="none" stroke="#000" stroke-width="1.4" stroke-linejoin="round"/>
<defs><clipPath id="cc"><rect x="51.5" y="327" width="160.8" height="110.4"/></clipPath></defs>
<g fill="#000" clip-path="url(#cc)"><circle cx="51.5" cy="412.3" r="1.45"/><circle cx="53.9" cy="411.5" r="1.45"/><circle cx="55.9" cy="413.1" r="1.45"/><circle cx="57.5" cy="411.5" r="1.45"/><circle cx="58.6" cy="406.9" r="1.45"/><circle cx="60.1" cy="407.6" r="1.45"/><circle cx="61.7" cy="404.5" r="1.45"/><circle cx="63.2" cy="399.8" r="1.45"/><circle cx="64.8" cy="399.1" r="1.45"/><circle cx="65.6" cy="392.1" r="1.45"/><circle cx="66.4" cy="375.7" r="1.45"/><circle cx="67.4" cy="374.1" r="1.45"/><circle cx="68.7" cy="376.5" r="1.45"/><circle cx="69.5" cy="367.1" r="1.45"/><circle cx="70.2" cy="360.9" r="1.45"/><circle cx="71.5" cy="365.6" r="1.45"/><circle cx="72.3" cy="361.7" r="1.45"/><circle cx="73.7" cy="360.1" r="1.45"/><circle cx="74.6" cy="368.7" r="1.45"/><circle cx="75.7" cy="374.1" r="1.45"/><circle cx="77.3" cy="372.6" r="1.45"/><circle cx="78.5" cy="374.1" r="1.45"/><circle cx="79.6" cy="380.4" r="1.45"/><circle cx="80.8" cy="377.3" r="1.45"/><circle cx="81.9" cy="380.4" r="1.45"/><circle cx="83.0" cy="378.0" r="1.45"/><circle cx="84.3" cy="382.7" r="1.45"/><circle cx="85.5" cy="378.0" r="1.45"/><circle cx="87.1" cy="383.5" r="1.45"/><circle cx="88.2" cy="377.3" r="1.45"/><circle cx="89.3" cy="374.9" r="1.45"/><circle cx="90.5" cy="377.3" r="1.45"/><circle cx="91.7" cy="369.5" r="1.45"/><circle cx="92.8" cy="374.1" r="1.45"/><circle cx="95.2" cy="374.9" r="1.45"/><circle cx="96.7" cy="377.3" r="1.45"/><circle cx="98.3" cy="382.7" r="1.45"/><circle cx="99.5" cy="383.5" r="1.45"/><circle cx="100.2" cy="396.7" r="1.45"/><circle cx="101.4" cy="403.7" r="1.45"/><circle cx="103.0" cy="404.5" r="1.45"/><circle cx="103.7" cy="415.4" r="1.45"/><circle cx="104.5" cy="420.1" r="1.45"/><circle cx="105.8" cy="418.8" r="1.45"/><circle cx="108.0" cy="422.4" r="1.45"/><circle cx="110.1" cy="424.6" r="1.45"/><circle cx="113.0" cy="426.0" r="1.45"/><circle cx="115.9" cy="426.7" r="1.45"/><circle cx="118.8" cy="427.5" r="1.45"/><circle cx="121.7" cy="426.0" r="1.45"/><circle cx="124.6" cy="426.7" r="1.45"/><circle cx="128.9" cy="427.5" r="1.45"/><circle cx="130.0" cy="427.0" r="1.45"/><circle cx="132.3" cy="426.2" r="1.45"/><circle cx="134.7" cy="427.8" r="1.45"/><circle cx="137.0" cy="427.0" r="1.45"/><circle cx="139.3" cy="428.5" r="1.45"/><circle cx="141.7" cy="427.0" r="1.45"/><circle cx="144.0" cy="425.4" r="1.45"/><circle cx="146.4" cy="427.8" r="1.45"/><circle cx="148.7" cy="423.1" r="1.45"/><circle cx="150.6" cy="423.9" r="1.45"/><circle cx="151.8" cy="419.2" r="1.45"/><circle cx="153.0" cy="413.0" r="1.45"/><circle cx="154.6" cy="417.6" r="1.45"/><circle cx="156.2" cy="410.6" r="1.45"/><circle cx="157.3" cy="406.0" r="1.45"/><circle cx="158.3" cy="401.3" r="1.45"/><circle cx="160.4" cy="395.8" r="1.45"/><circle cx="161.2" cy="384.9" r="1.45"/><circle cx="161.9" cy="374.0" r="1.45"/><circle cx="163.0" cy="370.9" r="1.45"/><circle cx="163.4" cy="367.8" r="1.45"/><circle cx="164.7" cy="348.4" r="1.45"/><circle cx="166.2" cy="346.0" r="1.45"/><circle cx="167.5" cy="335.1" r="1.45"/><circle cx="168.6" cy="333.6" r="1.45"/><circle cx="169.7" cy="335.9" r="1.45"/><circle cx="170.9" cy="340.6" r="1.45"/><circle cx="172.5" cy="340.6" r="1.45"/><circle cx="173.7" cy="353.0" r="1.45"/><circle cx="174.8" cy="358.5" r="1.45"/><circle cx="175.6" cy="351.5" r="1.45"/><circle cx="176.8" cy="355.4" r="1.45"/><circle cx="177.9" cy="362.4" r="1.45"/><circle cx="179.5" cy="358.5" r="1.45"/><circle cx="181.0" cy="365.5" r="1.45"/><circle cx="183.1" cy="362.4" r="1.45"/><circle cx="184.1" cy="366.3" r="1.45"/><circle cx="185.7" cy="353.0" r="1.45"/><circle cx="186.8" cy="345.2" r="1.45"/><circle cx="187.7" cy="354.6" r="1.45"/><circle cx="188.8" cy="348.4" r="1.45"/><circle cx="190.4" cy="341.4" r="1.45"/><circle cx="191.9" cy="342.9" r="1.45"/><circle cx="193.0" cy="351.5" r="1.45"/><circle cx="194.6" cy="355.4" r="1.45"/><circle cx="196.1" cy="356.9" r="1.45"/><circle cx="197.4" cy="373.3" r="1.45"/><circle cx="198.6" cy="381.1" r="1.45"/><circle cx="200.2" cy="381.1" r="1.45"/><circle cx="201.7" cy="394.3" r="1.45"/><circle cx="203.9" cy="395.9" r="1.45"/><circle cx="206.0" cy="393.5" r="1.45"/><circle cx="207.5" cy="390.4" r="1.45"/><circle cx="209.1" cy="392.0" r="1.45"/><circle cx="210.6" cy="382.6" r="1.45"/><circle cx="211.7" cy="383.4" r="1.45"/><circle cx="212.3" cy="384.0" r="1.45"/></g>
<rect x="51.5" y="326.4" width="160.8" height="111" fill="none" stroke="#000" stroke-width="1.1"/>
<line x1="51.5" y1="328.9" x2="56.5" y2="328.9" stroke="#000" stroke-width="1"/>
<line x1="51.5" y1="379.3" x2="56.5" y2="379.3" stroke="#000" stroke-width="1"/>
<line x1="51.5" y1="430.1" x2="56.5" y2="430.1" stroke="#000" stroke-width="1"/>
<line x1="70.4" y1="432.4" x2="70.4" y2="437.4" stroke="#000" stroke-width="1"/>
<line x1="131.9" y1="432.4" x2="131.9" y2="437.4" stroke="#000" stroke-width="1"/>
<line x1="193.5" y1="432.4" x2="193.5" y2="437.4" stroke="#000" stroke-width="1"/>
<text x="29.90" y="334.70" font-size="14.6" text-anchor="start" textLength="16.40" lengthAdjust="spacingAndGlyphs" fill="#000" stroke="#000" stroke-width="0.08" >80</text>
<text x="28.90" y="385.00" font-size="14.6" text-anchor="start" textLength="17.40" lengthAdjust="spacingAndGlyphs" fill="#000" stroke="#000" stroke-width="0.08" >40</text>
<text x="38.60" y="435.20" font-size="14.6" text-anchor="start" textLength="7.70" lengthAdjust="spacingAndGlyphs" fill="#000" stroke="#000" stroke-width="0.08" >0</text>
<text x="55.20" y="452.80" font-size="14.6" text-anchor="start" textLength="31.00" lengthAdjust="spacingAndGlyphs" fill="#000" stroke="#000" stroke-width="0.08" >&#8722;0.5</text>
<text x="121.60" y="452.80" font-size="14.6" text-anchor="start" textLength="20.60" lengthAdjust="spacingAndGlyphs" fill="#000" stroke="#000" stroke-width="0.08" >0.0</text>
<text x="183.10" y="452.80" font-size="14.6" text-anchor="start" textLength="20.20" lengthAdjust="spacingAndGlyphs" fill="#000" stroke="#000" stroke-width="0.08" >0.5</text>
<text x="106.00" y="471.00" font-size="13" text-anchor="start" textLength="53.30" lengthAdjust="spacingAndGlyphs" fill="#000" stroke="#000" stroke-width="0.08" ><tspan font-style="italic">V</tspan><tspan font-size="9" dy="2.5">B</tspan><tspan dy="-2.5"> (mV)</tspan></text>
<text x="25.00" y="313.00" font-size="13.6" text-anchor="start" textLength="17.40" lengthAdjust="spacingAndGlyphs" fill="#000" stroke="#000" stroke-width="0.08" >(c)</text>
<g transform="translate(25.3,381.0) rotate(-90)">
<text x="-53.50" y="0.00" font-size="13" text-anchor="start" textLength="107.00" lengthAdjust="spacingAndGlyphs" fill="#000" stroke="#000" stroke-width="0.08" ><tspan font-style="italic">g</tspan> (e<tspan font-size="9" dy="-5">2</tspan><tspan dy="5">/</tspan><tspan font-style="italic">h</tspan> &#215; 10<tspan font-size="9" dy="-5">&#8722;3</tspan><tspan dy="5"> )</tspan></text>
</g>
<defs><clipPath id="cd"><rect x="247.6" y="170.3" width="160.7" height="111"/></clipPath><clipPath id="ce"><rect x="247.6" y="326" width="160.7" height="111"/></clipPath></defs>
<polyline clip-path="url(#cd)" points="247.6,257.0 248.3,255.1 249.0,252.6 249.7,249.6 250.4,246.1 251.1,242.2 251.8,238.0 252.5,233.6 253.2,228.9 253.9,224.3 254.6,219.6 255.3,215.0 256.0,210.5 256.7,206.3 257.4,202.4 258.1,198.9 258.8,195.8 259.5,193.1 260.2,191.0 260.9,189.3 261.6,188.2 262.3,187.7 263.0,187.7 263.7,188.2 264.4,189.3 265.1,190.8 265.8,192.8 266.5,195.2 267.2,198.0 267.9,201.0 268.6,204.3 269.3,207.8 270.0,211.4 270.7,215.0 271.4,218.6 272.1,222.2 272.8,225.6 273.5,228.9 274.2,231.8 274.9,234.5 275.6,236.9 276.3,238.9 277.0,240.5 277.7,241.7 278.4,242.5 279.1,242.9 279.8,242.8 280.5,242.3 281.2,241.5 281.9,240.2 282.6,238.6 283.3,236.7 284.0,234.5 284.7,232.1 285.4,229.5 286.1,226.8 286.8,224.0 287.5,221.1 288.2,218.3 288.9,215.6 289.6,212.9 290.3,210.4 291.0,208.1 291.7,206.0 292.4,204.2 293.1,202.7 293.8,201.5 294.5,200.6 295.2,200.0 295.9,199.8 296.6,199.9 297.3,200.3 298.0,201.0 298.7,202.0 299.4,203.3 300.1,204.8 300.8,206.5 301.5,208.4 302.2,210.4 302.9,212.5 303.6,214.7 304.3,216.9 305.0,219.1 305.7,221.2 306.4,223.3 307.1,225.2 307.8,227.0 308.5,228.5 309.2,229.9 309.9,231.1 310.6,232.0 311.3,232.6 312.0,233.0 312.7,233.2 313.4,233.1 314.1,232.7 314.8,232.1 315.5,231.3 316.2,230.2 316.9,229.0 317.6,227.7 318.3,226.2 319.0,224.6 319.7,222.9 320.4,221.2 321.1,219.5 321.8,217.8 322.5,216.1 323.2,214.6 323.9,213.1 324.6,211.7 325.3,210.5 326.0,209.5 326.7,208.6 327.4,207.9 328.1,207.4 328.8,207.1 329.5,207.0 330.2,207.1 330.9,207.4 331.6,207.9 332.3,208.6 333.0,209.4 333.7,210.3 334.4,211.4 335.1,212.6 335.8,213.8 336.5,215.1 337.2,216.4 337.9,217.8 338.6,219.1 339.3,220.4 340.0,221.6 340.7,222.7 341.4,223.7 342.1,224.7 342.8,225.4 343.5,226.1 344.2,226.6 344.9,227.0 345.6,227.2 346.3,227.2 347.0,227.1 347.7,226.8 348.4,226.4 349.1,225.9 349.8,225.2 350.5,224.5 351.2,223.6 351.9,222.7 352.6,221.7 353.3,220.7 354.0,219.7 354.7,218.6 355.4,217.6 356.1,216.6 356.8,215.7 357.5,214.8 358.2,214.0 358.9,213.3 359.6,212.7 360.3,212.2 361.0,211.8 361.7,211.5 362.4,211.4 363.1,211.4 363.8,211.5 364.5,211.7 365.2,212.0 365.9,212.4 366.6,212.9 367.3,213.5 368.0,214.2 368.7,214.9 369.4,215.7 370.1,216.5 370.8,217.3 371.5,218.1 372.2,218.9 372.9,219.6 373.6,220.3 374.3,221.0 375.0,221.6 375.7,222.1 376.4,222.6 377.1,223.0 377.8,223.2 378.5,223.4 379.2,223.5 379.9,223.5 380.6,223.4 381.3,223.2 382.0,223.0 382.7,222.6 383.4,222.2 384.1,221.7 384.8,221.2 385.5,220.6 386.2,220.0 386.9,219.4 387.6,218.8 388.3,218.2 389.0,217.5 389.7,216.9 390.4,216.4 391.1,215.9 391.8,215.4 392.5,215.0 393.2,214.6 393.9,214.4 394.6,214.1 395.3,214.0 396.0,213.9 396.7,213.9 397.4,214.0 398.1,214.2 398.8,214.4 399.5,214.6 400.2,215.0 400.9,215.3 401.6,215.7 402.3,216.2 403.0,216.6 403.7,217.1 404.4,217.6 405.1,218.1 405.8,218.6 406.5,219.0 407.2,219.4 407.9,219.8" fill="none" stroke="#9000d0" stroke-width="2.2" stroke-linejoin="round"/>
<g fill="#000" clip-path="url(#cd)"><circle cx="248.6" cy="266" r="2.5"/><circle cx="251" cy="264.8" r="2.5"/><circle cx="253.4" cy="240.4" r="2.5"/><circle cx="255.7" cy="213.4" r="2.5"/><circle cx="258.1" cy="192.6" r="2.5"/><circle cx="260.5" cy="195.5" r="2.5"/><circle cx="263.6" cy="191.9" r="2.5"/><circle cx="266" cy="208.2" r="2.5"/><circle cx="268.2" cy="215.3" r="2.5"/><circle cx="271.3" cy="227.8" r="2.5"/><circle cx="273.7" cy="230.6" r="2.5"/><circle cx="276" cy="242.1" r="2.5"/><circle cx="278.9" cy="236.9" r="2.5"/><circle cx="281.3" cy="238.5" r="2.5"/><circle cx="283.7" cy="237.8" r="2.5"/><circle cx="286.1" cy="228.9" r="2.5"/><circle cx="288.7" cy="216.3" r="2.5"/><circle cx="291.6" cy="212.4" r="2.5"/><circle cx="294" cy="209.1" r="2.5"/><circle cx="296.3" cy="203.9" r="2.5"/><circle cx="299" cy="211.8" r="2.5"/><circle cx="301.8" cy="215.3" r="2.5"/><circle cx="304.2" cy="220.6" r="2.5"/><circle cx="306.6" cy="226.1" r="2.5"/><circle cx="309" cy="230.6" r="2.5"/><circle cx="311.4" cy="233" r="2.5"/><circle cx="314.2" cy="229.7" r="2.5"/><circle cx="316.6" cy="230.6" r="2.5"/><circle cx="319.5" cy="229.7" r="2.5"/><circle cx="321.9" cy="219.4" r="2.5"/><circle cx="324.3" cy="210.6" r="2.5"/><circle cx="326.9" cy="206.2" r="2.5"/><circle cx="329.3" cy="210.5" r="2.5"/><circle cx="332.2" cy="208.6" r="2.5"/><circle cx="334.6" cy="212.2" r="2.5"/><circle cx="336.5" cy="217" r="2.5"/><circle cx="338.4" cy="220.5" r="2.5"/><circle cx="340.5" cy="224.1" r="2.5"/><circle cx="342.9" cy="227.2" r="2.5"/><circle cx="345.3" cy="230.1" r="2.5"/><circle cx="347.7" cy="231.3" r="2.5"/><circle cx="350.1" cy="229.6" r="2.5"/><circle cx="352.5" cy="224.1" r="2.5"/><circle cx="354.8" cy="225.3" r="2.5"/><circle cx="357.2" cy="217.7" r="2.5"/><circle cx="359.6" cy="213.8" r="2.5"/><circle cx="362" cy="208.6" r="2.5"/><circle cx="364.4" cy="209.1" r="2.5"/><circle cx="366.8" cy="212.9" r="2.5"/><circle cx="369.2" cy="215.3" r="2.5"/><circle cx="371.6" cy="218.1" r="2.5"/><circle cx="373.9" cy="221" r="2.5"/><circle cx="376.3" cy="224.1" r="2.5"/><circle cx="378" cy="226.5" r="2.5"/><circle cx="380.4" cy="225.3" r="2.5"/><circle cx="382.8" cy="224.8" r="2.5"/><circle cx="385.2" cy="223.4" r="2.5"/><circle cx="387.6" cy="220" r="2.5"/><circle cx="390" cy="219.3" r="2.5"/><circle cx="392.3" cy="214.6" r="2.5"/><circle cx="394.7" cy="212.9" r="2.5"/><circle cx="399" cy="211" r="2.5"/><circle cx="401.4" cy="209.8" r="2.5"/><circle cx="404.3" cy="209.8" r="2.5"/><circle cx="406.7" cy="212.2" r="2.5"/></g>
<rect x="247.6" y="170.3" width="160.7" height="111" fill="none" stroke="#000" stroke-width="1.1"/>
<line x1="247.6" y1="192" x2="252.6" y2="192" stroke="#000" stroke-width="1"/>
<line x1="403.3" y1="192" x2="408.3" y2="192" stroke="#000" stroke-width="1"/>
<line x1="247.6" y1="229.2" x2="252.6" y2="229.2" stroke="#000" stroke-width="1"/>
<line x1="403.3" y1="229.2" x2="408.3" y2="229.2" stroke="#000" stroke-width="1"/>
<line x1="247.6" y1="266.3" x2="252.6" y2="266.3" stroke="#000" stroke-width="1"/>
<line x1="403.3" y1="266.3" x2="408.3" y2="266.3" stroke="#000" stroke-width="1"/>
<line x1="247.6" y1="276.3" x2="247.6" y2="281.3" stroke="#000" stroke-width="1"/>
<line x1="311.8" y1="276.3" x2="311.8" y2="281.3" stroke="#000" stroke-width="1"/>
<line x1="376" y1="276.3" x2="376" y2="281.3" stroke="#000" stroke-width="1"/>
<text x="235.00" y="197.40" font-size="14.6" text-anchor="start" textLength="6.20" lengthAdjust="spacingAndGlyphs" fill="#000" stroke="#000" stroke-width="0.08" >1</text>
<text x="234.70" y="272.00" font-size="14.6" text-anchor="start" textLength="7.10" lengthAdjust="spacingAndGlyphs" fill="#000" stroke="#000" stroke-width="0.08" >0</text>
<text x="244.70" y="296.70" font-size="14.6" text-anchor="start" textLength="7.30" lengthAdjust="spacingAndGlyphs" fill="#000" stroke="#000" stroke-width="0.08" >0</text>
<text x="299.60" y="297.00" font-size="14.6" text-anchor="start" textLength="24.70" lengthAdjust="spacingAndGlyphs" fill="#000" stroke="#000" stroke-width="0.08" >100</text>
<text x="363.70" y="297.00" font-size="14.6" text-anchor="start" textLength="24.70" lengthAdjust="spacingAndGlyphs" fill="#000" stroke="#000" stroke-width="0.08" >200</text>
<text x="307.30" y="310.30" font-size="13" text-anchor="start" textLength="42.50" lengthAdjust="spacingAndGlyphs" fill="#000" stroke="#000" stroke-width="0.08" ><tspan font-style="italic">&#964;</tspan><tspan font-size="9.6" dy="2.5">d</tspan><tspan dy="-2.5"> (ns)</tspan></text>
<text x="227.60" y="163.10" font-size="13.6" text-anchor="start" textLength="18.00" lengthAdjust="spacingAndGlyphs" fill="#000" stroke="#000" stroke-width="0.08" >(d)</text>
<g transform="translate(229.4,225.6) rotate(-90)">
<text x="-29.20" y="0.00" font-size="13" text-anchor="start" textLength="58.40" lengthAdjust="spacingAndGlyphs" fill="#000" stroke="#000" stroke-width="0.08" ><tspan font-style="italic">V</tspan><tspan font-size="9" dy="2.5">H</tspan><tspan dy="-2.5"> (a.u.)</tspan></text>
</g>
<circle cx="358.5" cy="182.4" r="2.6" fill="#000"/>
<text x="375.50" y="186.30" font-size="12.5" text-anchor="start" textLength="25.00" lengthAdjust="spacingAndGlyphs" fill="#000" stroke="#000" stroke-width="0.08" >Exp.</text>
<line x1="351.4" y1="195.9" x2="365.8" y2="195.9" stroke="#9000d0" stroke-width="2.2"/>
<text x="375.50" y="200.30" font-size="12.5" text-anchor="start" textLength="16.00" lengthAdjust="spacingAndGlyphs" fill="#000" stroke="#000" stroke-width="0.08" >Fit</text>
<polyline clip-path="url(#ce)" points="247.6,337.7 248.6,339.5 249.6,341.2 250.6,343.0 251.6,344.7 252.6,346.3 253.6,348.0 254.6,349.6 255.6,351.1 256.6,352.6 257.6,354.1 258.6,355.6 259.6,357.0 260.6,358.4 261.6,359.8 262.6,361.1 263.6,362.4 264.6,363.7 265.6,365.0 266.6,366.2 267.6,367.4 268.6,368.6 269.6,369.7 270.6,370.9 271.6,372.0 272.6,373.0 273.6,374.1 274.6,375.1 275.6,376.1 276.6,377.1 277.6,378.1 278.6,379.0 279.6,380.0 280.6,380.9 281.6,381.8 282.6,382.6 283.6,383.5 284.6,384.3 285.6,385.1 286.6,385.9 287.6,386.7 288.6,387.5 289.6,388.2 290.6,389.0 291.6,389.7 292.6,390.4 293.6,391.1 294.6,391.7 295.6,392.4 296.6,393.0 297.6,393.7 298.6,394.3 299.6,394.9 300.6,395.5 301.6,396.0 302.6,396.6 303.6,397.1 304.6,397.7 305.6,398.2 306.6,398.7 307.6,399.2 308.6,399.7 309.6,400.2 310.6,400.7 311.6,401.2 312.6,401.6 313.6,402.1 314.6,402.5 315.6,402.9 316.6,403.3 317.6,403.7 318.6,404.1 319.6,404.5 320.6,404.9 321.6,405.3 322.6,405.7 323.6,406.0 324.6,406.4 325.6,406.7 326.6,407.0 327.6,407.4 328.6,407.7 329.6,408.0 330.6,408.3 331.6,408.6 332.6,408.9 333.6,409.2 334.6,409.5 335.6,409.8 336.6,410.0 337.6,410.3 338.6,410.6 339.6,410.8 340.6,411.1 341.6,411.3 342.6,411.5 343.6,411.8 344.6,412.0 345.6,412.2 346.6,412.4 347.6,412.7 348.6,412.9 349.6,413.1 350.6,413.3 351.6,413.5 352.6,413.7 353.6,413.8 354.6,414.0 355.6,414.2 356.6,414.4 357.6,414.6 358.6,414.7 359.6,414.9 360.6,415.0 361.6,415.2 362.6,415.4 363.6,415.5 364.6,415.7 365.6,415.8 366.6,415.9 367.6,416.1 368.6,416.2 369.6,416.3 370.6,416.5 371.6,416.6 372.6,416.7 373.6,416.9 374.6,417.0 375.6,417.1 376.6,417.2 377.6,417.3 378.6,417.4 379.6,417.5 380.6,417.6 381.6,417.7 382.6,417.8 383.6,417.9 384.6,418.0 385.6,418.1 386.6,418.2 387.6,418.3 388.6,418.4 389.6,418.5 390.6,418.6 391.6,418.6 392.6,418.7 393.6,418.8 394.6,418.9 395.6,419.0 396.6,419.0 397.6,419.1 398.6,419.2 399.6,419.2 400.6,419.3 401.6,419.4 402.6,419.4 403.6,419.5 404.6,419.6 405.6,419.6 406.6,419.7 407.6,419.7" fill="none" stroke="#fb6c3e" stroke-width="2.3"/>
<g fill="#000" clip-path="url(#ce)"><circle cx="248.7" cy="332.3" r="2.5"/><circle cx="250.4" cy="334" r="2.5"/><circle cx="251.8" cy="345.4" r="2.5"/><circle cx="253.5" cy="351.7" r="2.5"/><circle cx="255.2" cy="359" r="2.5"/><circle cx="257.2" cy="357.1" r="2.5"/><circle cx="260.1" cy="342" r="2.5"/><circle cx="260.8" cy="358.3" r="2.5"/><circle cx="262.5" cy="355.9" r="2.5"/><circle cx="264" cy="364.9" r="2.5"/><circle cx="265.7" cy="369.3" r="2.5"/><circle cx="268.1" cy="365.6" r="2.5"/><circle cx="269.4" cy="372.9" r="2.5"/><circle cx="271.3" cy="375.4" r="2.5"/><circle cx="273" cy="371.7" r="2.5"/><circle cx="275.4" cy="371.7" r="2.5"/><circle cx="271.8" cy="369.3" r="2.5"/><circle cx="277.1" cy="385.8" r="2.5"/><circle cx="279.1" cy="380.2" r="2.5"/><circle cx="281.5" cy="381.9" r="2.5"/><circle cx="283.5" cy="391.2" r="2.5"/><circle cx="285.2" cy="383.4" r="2.5"/><circle cx="287.6" cy="389.2" r="2.5"/><circle cx="290" cy="390" r="2.5"/><circle cx="292.5" cy="388.8" r="2.5"/><circle cx="294.9" cy="383.9" r="2.5"/><circle cx="296.1" cy="385.1" r="2.5"/><circle cx="298.1" cy="394.8" r="2.5"/><circle cx="299.8" cy="399" r="2.5"/><circle cx="302.2" cy="392.4" r="2.5"/><circle cx="303.9" cy="391.7" r="2.5"/><circle cx="305.9" cy="403.4" r="2.5"/><circle cx="308.8" cy="397.3" r="2.5"/><circle cx="311.2" cy="402.9" r="2.5"/><circle cx="313.7" cy="400.4" r="2.5"/><circle cx="315.6" cy="396.1" r="2.5"/><circle cx="316.8" cy="406.3" r="2.5"/><circle cx="319.3" cy="396.1" r="2.5"/><circle cx="321.7" cy="397.3" r="2.5"/><circle cx="323.4" cy="405.8" r="2.5"/><circle cx="325.9" cy="420.4" r="2.5"/><circle cx="327.8" cy="400.9" r="2.5"/><circle cx="329" cy="405.3" r="2.5"/><circle cx="327.4" cy="402.2" r="2.5"/><circle cx="329.9" cy="400.4" r="2.5"/><circle cx="332.3" cy="402.2" r="2.5"/><circle cx="335.2" cy="403.9" r="2.5"/><circle cx="337.2" cy="403.4" r="2.5"/><circle cx="339.6" cy="410.7" r="2.5"/><circle cx="340.8" cy="418" r="2.5"/><circle cx="342" cy="407" r="2.5"/><circle cx="343.3" cy="399.7" r="2.5"/><circle cx="345" cy="411.9" r="2.5"/><circle cx="346.9" cy="405.8" r="2.5"/><circle cx="348.1" cy="410.2" r="2.5"/><circle cx="349.4" cy="415.1" r="2.5"/><circle cx="351.3" cy="422.9" r="2.5"/><circle cx="353" cy="419.9" r="2.5"/><circle cx="354.2" cy="412.6" r="2.5"/><circle cx="356.2" cy="411.2" r="2.5"/><circle cx="357.9" cy="403.4" r="2.5"/><circle cx="359.6" cy="407.8" r="2.5"/><circle cx="361" cy="416" r="2.5"/><circle cx="362.7" cy="419.2" r="2.5"/><circle cx="364.5" cy="415.1" r="2.5"/><circle cx="366.4" cy="417.5" r="2.5"/><circle cx="368.8" cy="416.8" r="2.5"/><circle cx="370.1" cy="407" r="2.5"/><circle cx="371.8" cy="408.2" r="2.5"/><circle cx="373.7" cy="419.2" r="2.5"/><circle cx="375.7" cy="421.6" r="2.5"/><circle cx="377.4" cy="423.3" r="2.5"/><circle cx="379.8" cy="410.7" r="2.5"/><circle cx="381" cy="419.2" r="2.5"/><circle cx="383" cy="420.4" r="2.5"/><circle cx="384.7" cy="424.1" r="2.5"/><circle cx="387.1" cy="415.1" r="2.5"/><circle cx="389.5" cy="416.8" r="2.5"/><circle cx="391.2" cy="419.2" r="2.5"/><circle cx="392.7" cy="428.9" r="2.5"/><circle cx="394.4" cy="419.9" r="2.5"/><circle cx="396.1" cy="422.9" r="2.5"/><circle cx="398.1" cy="417.5" r="2.5"/><circle cx="399.3" cy="424.1" r="2.5"/><circle cx="401.7" cy="422.4" r="2.5"/><circle cx="403.4" cy="419.2" r="2.5"/><circle cx="405.4" cy="415.1" r="2.5"/><circle cx="402.4" cy="432.1" r="2.5"/></g>
<rect x="247.6" y="326" width="160.7" height="111" fill="none" stroke="#000" stroke-width="1.1"/>
<line x1="247.6" y1="333.2" x2="252.6" y2="333.2" stroke="#000" stroke-width="1"/>
<line x1="403.3" y1="333.2" x2="408.3" y2="333.2" stroke="#000" stroke-width="1"/>
<line x1="247.6" y1="382.8" x2="252.6" y2="382.8" stroke="#000" stroke-width="1"/>
<line x1="403.3" y1="382.8" x2="408.3" y2="382.8" stroke="#000" stroke-width="1"/>
<line x1="247.6" y1="432.4" x2="252.6" y2="432.4" stroke="#000" stroke-width="1"/>
<line x1="403.3" y1="432.4" x2="408.3" y2="432.4" stroke="#000" stroke-width="1"/>
<line x1="247.6" y1="432" x2="247.6" y2="437" stroke="#000" stroke-width="1"/>
<line x1="300.8" y1="432" x2="300.8" y2="437" stroke="#000" stroke-width="1"/>
<line x1="354" y1="432" x2="354" y2="437" stroke="#000" stroke-width="1"/>
<line x1="407.2" y1="432" x2="407.2" y2="437" stroke="#000" stroke-width="1"/>
<text x="235.00" y="337.00" font-size="14.6" text-anchor="start" textLength="6.20" lengthAdjust="spacingAndGlyphs" fill="#000" stroke="#000" stroke-width="0.08" >1</text>
<text x="234.70" y="437.00" font-size="14.6" text-anchor="start" textLength="7.10" lengthAdjust="spacingAndGlyphs" fill="#000" stroke="#000" stroke-width="0.08" >0</text>
<text x="244.70" y="452.70" font-size="14.6" text-anchor="start" textLength="7.30" lengthAdjust="spacingAndGlyphs" fill="#000" stroke="#000" stroke-width="0.08" >0</text>
<text x="297.00" y="452.70" font-size="14.6" text-anchor="start" textLength="7.60" lengthAdjust="spacingAndGlyphs" fill="#000" stroke="#000" stroke-width="0.08" >2</text>
<text x="349.90" y="452.70" font-size="14.6" text-anchor="start" textLength="8.30" lengthAdjust="spacingAndGlyphs" fill="#000" stroke="#000" stroke-width="0.08" >4</text>
<text x="403.00" y="452.70" font-size="14.6" text-anchor="start" textLength="7.80" lengthAdjust="spacingAndGlyphs" fill="#000" stroke="#000" stroke-width="0.08" >6</text>
<text x="306.10" y="466.00" font-size="13" text-anchor="start" textLength="45.20" lengthAdjust="spacingAndGlyphs" fill="#000" stroke="#000" stroke-width="0.08" ><tspan font-style="italic">&#964;</tspan><tspan font-size="9.6" dy="2.5">w</tspan><tspan dy="-2.5"> (</tspan><tspan font-style="italic">&#956;</tspan>s)</text>
<text x="227.60" y="313.00" font-size="13.6" text-anchor="start" textLength="18.00" lengthAdjust="spacingAndGlyphs" fill="#000" stroke="#000" stroke-width="0.08" >(e)</text>
<g transform="translate(229.4,381.5) rotate(-90)">
<text x="-29.20" y="0.00" font-size="13" text-anchor="start" textLength="58.40" lengthAdjust="spacingAndGlyphs" fill="#000" stroke="#000" stroke-width="0.08" ><tspan font-style="italic">V</tspan><tspan font-size="9" dy="2.5">H</tspan><tspan dy="-2.5"> (a.u.)</tspan></text>
</g>
<circle cx="358.6" cy="338.8" r="2.6" fill="#000"/>
<text x="374.90" y="342.00" font-size="12.5" text-anchor="start" textLength="25.00" lengthAdjust="spacingAndGlyphs" fill="#000" stroke="#000" stroke-width="0.08" >Exp.</text>
<line x1="351.3" y1="352.1" x2="365.9" y2="352.1" stroke="#fb6c3e" stroke-width="2.3"/>
<text x="374.90" y="356.00" font-size="12.5" text-anchor="start" textLength="16.00" lengthAdjust="spacingAndGlyphs" fill="#000" stroke="#000" stroke-width="0.08" >Fit</text></svg></body></html>
